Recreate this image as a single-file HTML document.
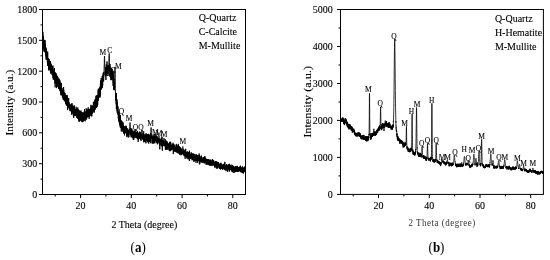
<!DOCTYPE html>
<html lang="en"><head><meta charset="utf-8"><title>XRD patterns</title>
<style>html,body{margin:0;padding:0;background:#fff;}body{width:550px;height:260px;overflow:hidden;}</style>
</head><body>
<svg width="550" height="260" viewBox="0 0 550 260" style="display:block">
<rect width="550" height="260" fill="#fff"/>
<g font-family="'Liberation Serif', 'Times New Roman', serif" fill="#000" stroke="#000" stroke-width="0.1">
<rect x="42.5" y="9.5" width="203.0" height="185.0" fill="none" stroke="#000" stroke-width="1"/>
<path d="M80.6,194.5v3.6M131.3,194.5v3.6M182.1,194.5v3.6M232.8,194.5v3.6M55.2,194.5v2M105.9,194.5v2M156.7,194.5v2M207.4,194.5v2M42.5,194.5h-3.5M42.5,163.7h-3.5M42.5,132.8h-3.5M42.5,102.0h-3.5M42.5,71.2h-3.5M42.5,40.3h-3.5M42.5,9.5h-3.5M42.5,179.1h-2M42.5,148.2h-2M42.5,117.4h-2M42.5,86.6h-2M42.5,55.8h-2M42.5,24.9h-2" stroke="#000" stroke-width="1" fill="none"/>
<g font-size="10" text-anchor="end">
<text transform="translate(37.2,197.9) scale(1,1.12)" >0</text>
<text transform="translate(37.2,167.1) scale(1,1.12)" >300</text>
<text transform="translate(37.2,136.2) scale(1,1.12)" >600</text>
<text transform="translate(37.2,105.4) scale(1,1.12)" >900</text>
<text transform="translate(37.2,74.6) scale(1,1.12)" >1200</text>
<text transform="translate(37.2,43.7) scale(1,1.12)" >1500</text>
<text transform="translate(37.2,12.9) scale(1,1.12)" >1800</text>
</g>
<g font-size="10" text-anchor="middle">
<text transform="translate(80.6,209.1) scale(1,1.12)" >20</text>
<text transform="translate(131.3,209.1) scale(1,1.12)" >40</text>
<text transform="translate(182.1,209.1) scale(1,1.12)" >60</text>
<text transform="translate(232.8,209.1) scale(1,1.12)" >80</text>
<text transform="translate(144.3,227.6) scale(1,1.12)" >2 Theta (degree)</text>
<text transform="translate(13.2,102.6) scale(1,1.12) rotate(-90)">Intensity (a.u.)</text>
</g>
<g font-size="10"><text transform="translate(198.7,21.2) scale(1,1.12)" >Q-Quartz</text><text transform="translate(198.7,35.2) scale(1,1.12)" >C-Calcite</text><text transform="translate(198.7,49.2) scale(1,1.12)" >M-Mullite</text></g>
<polyline points="42.5,35.0 42.6,34.1 42.6,36.6 42.7,39.2 42.7,37.8 42.8,40.1 42.8,36.4 42.9,31.8 42.9,39.0 43.0,39.8 43.0,35.8 43.1,36.6 43.1,37.8 43.2,42.0 43.2,38.8 43.3,36.4 43.3,44.4 43.4,41.2 43.4,47.0 43.5,44.9 43.5,47.3 43.6,41.4 43.6,45.6 43.7,40.0 43.7,40.7 43.8,42.3 43.8,51.3 43.9,44.1 43.9,42.5 44.0,42.1 44.0,48.6 44.1,44.8 44.1,47.0 44.2,46.6 44.2,39.8 44.3,47.1 44.3,44.4 44.4,41.2 44.4,47.0 44.5,45.4 44.5,44.9 44.6,45.3 44.6,50.3 44.7,45.7 44.7,41.2 44.8,52.2 44.8,43.5 44.9,46.5 44.9,49.6 45.0,40.0 45.0,44.8 45.1,52.3 45.1,47.9 45.2,46.2 45.2,49.3 45.3,46.3 45.3,49.3 45.4,46.8 45.4,44.3 45.5,52.2 45.5,49.2 45.6,51.9 45.6,50.0 45.7,55.0 45.7,53.0 45.8,51.8 45.9,48.1 45.9,47.4 46.0,56.6 46.0,54.9 46.1,49.9 46.1,59.7 46.2,54.4 46.2,53.3 46.3,48.6 46.3,50.9 46.4,54.8 46.4,55.1 46.5,54.9 46.5,48.8 46.6,56.0 46.6,55.8 46.7,53.7 46.7,55.6 46.8,56.1 46.8,59.6 46.9,55.9 46.9,57.6 47.0,52.1 47.0,54.2 47.1,56.8 47.1,54.5 47.2,58.4 47.2,53.6 47.3,57.6 47.3,55.7 47.4,62.6 47.4,57.0 47.5,64.4 47.5,65.8 47.6,59.9 47.6,62.2 47.7,58.6 47.7,51.5 47.8,62.6 47.8,62.0 47.9,59.3 47.9,58.4 48.0,61.0 48.0,61.3 48.1,58.2 48.1,59.0 48.2,64.7 48.2,61.5 48.3,61.2 48.3,65.2 48.4,60.8 48.4,64.8 48.5,58.6 48.5,61.4 48.6,62.0 48.6,64.5 48.7,63.0 48.7,69.7 48.8,66.8 48.8,61.7 48.9,70.5 48.9,60.3 49.0,69.5 49.0,60.9 49.1,66.6 49.1,61.1 49.2,63.4 49.3,69.4 49.3,59.8 49.4,59.3 49.4,64.6 49.5,65.5 49.5,65.2 49.6,68.1 49.6,61.1 49.7,66.9 49.7,65.3 49.8,68.0 49.8,67.5 49.9,69.9 49.9,61.2 50.0,66.2 50.0,62.5 50.1,65.9 50.1,68.4 50.2,67.3 50.2,68.2 50.3,66.4 50.3,67.8 50.4,67.6 50.4,71.5 50.5,69.6 50.5,61.3 50.6,69.4 50.6,70.8 50.7,66.1 50.7,62.6 50.8,72.5 50.8,68.3 50.9,69.9 50.9,73.9 51.0,65.4 51.0,68.1 51.1,67.9 51.1,70.9 51.2,66.8 51.2,70.3 51.3,69.1 51.3,72.5 51.4,73.0 51.4,64.4 51.5,70.8 51.5,68.2 51.6,69.4 51.6,70.9 51.7,71.2 51.7,67.4 51.8,70.7 51.8,70.3 51.9,69.8 51.9,66.0 52.0,67.8 52.0,68.9 52.1,72.2 52.1,75.1 52.2,67.3 52.2,67.3 52.3,71.2 52.3,69.0 52.4,68.3 52.4,68.2 52.5,68.0 52.6,72.7 52.6,66.2 52.7,75.6 52.7,68.6 52.8,69.9 52.8,68.8 52.9,65.5 52.9,66.9 53.0,75.9 53.0,77.8 53.1,69.5 53.1,75.7 53.2,72.4 53.2,69.7 53.3,78.1 53.3,79.8 53.4,71.9 53.4,72.8 53.5,73.8 53.5,73.0 53.6,76.1 53.6,78.4 53.7,74.0 53.7,76.8 53.8,79.1 53.8,72.0 53.9,74.0 53.9,72.6 54.0,77.3 54.0,76.3 54.1,77.6 54.1,77.3 54.2,73.8 54.2,77.2 54.3,73.5 54.3,73.7 54.4,68.1 54.4,79.6 54.5,72.2 54.5,75.5 54.6,75.4 54.6,80.2 54.7,77.1 54.7,73.2 54.8,76.0 54.8,75.6 54.9,76.9 54.9,72.3 55.0,76.3 55.0,83.6 55.1,78.7 55.1,83.0 55.2,87.4 55.2,78.5 55.3,72.4 55.3,76.8 55.4,80.9 55.4,80.3 55.5,73.6 55.5,76.9 55.6,77.3 55.6,77.8 55.7,77.6 55.7,75.2 55.8,76.1 55.9,77.3 55.9,81.6 56.0,76.6 56.0,80.6 56.1,74.9 56.1,82.8 56.2,79.2 56.2,78.8 56.3,83.3 56.3,73.4 56.4,74.4 56.4,80.8 56.5,76.8 56.5,78.2 56.6,88.1 56.6,78.9 56.7,80.0 56.7,79.6 56.8,83.5 56.8,81.0 56.9,80.8 56.9,76.5 57.0,79.3 57.0,80.6 57.1,75.7 57.1,82.6 57.2,82.1 57.2,86.9 57.3,76.0 57.3,78.0 57.4,78.3 57.4,79.2 57.5,81.1 57.5,80.9 57.6,82.5 57.6,82.5 57.7,81.7 57.7,77.1 57.8,80.3 57.8,82.4 57.9,84.2 57.9,84.5 58.0,77.4 58.0,81.0 58.1,82.5 58.1,84.0 58.2,86.5 58.2,83.3 58.3,80.4 58.3,84.5 58.4,84.1 58.4,84.2 58.5,83.2 58.5,88.8 58.6,84.6 58.6,86.6 58.7,81.2 58.7,86.6 58.8,82.4 58.8,79.5 58.9,85.4 58.9,86.5 59.0,84.0 59.0,84.8 59.1,88.0 59.2,83.5 59.2,78.7 59.3,86.0 59.3,85.9 59.4,88.7 59.4,84.5 59.5,89.6 59.5,89.2 59.6,81.8 59.6,88.8 59.7,82.6 59.7,81.3 59.8,85.5 59.8,84.6 59.9,80.3 59.9,87.2 60.0,88.6 60.0,91.1 60.1,86.8 60.1,82.4 60.2,84.2 60.2,90.3 60.3,90.1 60.3,89.1 60.4,86.7 60.4,88.4 60.5,87.2 60.5,87.1 60.6,89.1 60.6,88.4 60.7,87.7 60.7,88.7 60.8,87.0 60.8,82.8 60.9,87.0 60.9,88.8 61.0,94.3 61.0,87.9 61.1,95.4 61.1,93.8 61.2,86.8 61.2,87.4 61.3,90.2 61.3,95.2 61.4,91.1 61.4,92.2 61.5,88.2 61.5,83.3 61.6,89.8 61.6,93.0 61.7,94.3 61.7,91.0 61.8,91.4 61.8,94.6 61.9,90.8 61.9,94.8 62.0,87.9 62.0,88.2 62.1,88.2 62.1,93.2 62.2,90.2 62.2,92.3 62.3,93.2 62.3,93.2 62.4,96.2 62.4,96.8 62.5,90.0 62.6,93.2 62.6,92.0 62.7,89.7 62.7,98.2 62.8,95.4 62.8,92.6 62.9,92.0 62.9,94.5 63.0,90.3 63.0,92.9 63.1,97.3 63.1,96.6 63.2,91.4 63.2,92.5 63.3,99.8 63.3,90.0 63.4,92.4 63.4,90.2 63.5,95.6 63.5,95.4 63.6,98.1 63.6,87.0 63.7,95.4 63.7,90.1 63.8,97.0 63.8,94.6 63.9,100.3 63.9,96.5 64.0,92.4 64.0,99.3 64.1,92.4 64.1,94.7 64.2,99.0 64.2,97.4 64.3,97.4 64.3,96.3 64.4,97.8 64.4,98.8 64.5,97.3 64.5,99.6 64.6,100.5 64.6,96.8 64.7,94.1 64.7,101.5 64.8,97.0 64.8,99.0 64.9,100.1 64.9,94.7 65.0,98.9 65.0,93.0 65.1,99.9 65.1,96.5 65.2,98.4 65.2,100.1 65.3,96.2 65.3,98.5 65.4,96.3 65.4,98.3 65.5,101.5 65.5,98.7 65.6,98.3 65.6,95.7 65.7,101.3 65.7,98.8 65.8,103.9 65.9,97.0 65.9,102.2 66.0,104.5 66.0,99.3 66.1,96.0 66.1,103.9 66.2,102.7 66.2,101.7 66.3,102.9 66.3,98.6 66.4,102.2 66.4,102.0 66.5,98.2 66.5,102.3 66.6,98.8 66.6,103.1 66.7,103.8 66.7,105.8 66.8,94.9 66.8,101.5 66.9,99.9 66.9,100.8 67.0,100.3 67.0,100.7 67.1,95.3 67.1,104.1 67.2,105.7 67.2,104.1 67.3,105.2 67.3,99.1 67.4,99.0 67.4,104.3 67.5,105.7 67.5,102.7 67.6,97.7 67.6,110.1 67.7,100.3 67.7,105.1 67.8,99.0 67.8,105.3 67.9,103.0 67.9,106.7 68.0,105.2 68.0,98.4 68.1,100.1 68.1,103.8 68.2,105.2 68.2,108.3 68.3,104.0 68.3,103.0 68.4,103.2 68.4,103.3 68.5,106.4 68.5,103.4 68.6,103.4 68.6,99.6 68.7,98.0 68.7,103.9 68.8,105.8 68.8,103.9 68.9,105.5 68.9,106.0 69.0,104.1 69.0,107.0 69.1,102.3 69.2,104.4 69.2,103.5 69.3,104.8 69.3,106.5 69.4,107.2 69.4,105.2 69.5,106.2 69.5,104.0 69.6,104.7 69.6,108.7 69.7,104.7 69.7,108.8 69.8,106.8 69.8,105.9 69.9,111.1 69.9,105.0 70.0,104.9 70.0,105.8 70.1,106.7 70.1,106.6 70.2,108.4 70.2,106.5 70.3,107.3 70.3,105.6 70.4,109.3 70.4,105.3 70.5,105.6 70.5,106.5 70.6,107.4 70.6,104.7 70.7,111.1 70.7,105.1 70.8,105.8 70.8,105.7 70.9,105.5 70.9,108.5 71.0,107.5 71.0,105.0 71.1,105.6 71.1,106.3 71.2,111.3 71.2,105.5 71.3,103.8 71.3,104.3 71.4,106.6 71.4,111.8 71.5,104.7 71.5,107.9 71.6,114.7 71.6,106.5 71.7,111.9 71.7,111.4 71.8,109.6 71.8,104.3 71.9,109.0 71.9,107.2 72.0,103.1 72.0,103.6 72.1,108.5 72.1,108.9 72.2,111.9 72.2,110.4 72.3,107.3 72.3,107.4 72.4,108.3 72.4,105.8 72.5,110.9 72.6,108.9 72.6,106.8 72.7,107.3 72.7,105.9 72.8,107.9 72.8,110.0 72.9,108.1 72.9,112.0 73.0,113.9 73.0,107.7 73.1,109.5 73.1,108.6 73.2,114.3 73.2,110.6 73.3,111.3 73.3,112.1 73.4,116.1 73.4,110.8 73.5,107.4 73.5,108.9 73.6,111.7 73.6,110.1 73.7,108.0 73.7,117.9 73.8,110.6 73.8,108.8 73.9,108.5 73.9,105.7 74.0,107.3 74.0,109.7 74.1,109.8 74.1,108.5 74.2,112.2 74.2,110.9 74.3,108.3 74.3,105.5 74.4,111.4 74.4,111.2 74.5,110.5 74.5,107.4 74.6,111.3 74.6,107.2 74.7,114.0 74.7,111.9 74.8,112.0 74.8,109.3 74.9,108.7 74.9,115.8 75.0,114.2 75.0,110.8 75.1,113.6 75.1,116.1 75.2,109.0 75.2,110.6 75.3,110.7 75.3,113.4 75.4,109.3 75.4,112.9 75.5,109.2 75.5,114.8 75.6,114.7 75.6,111.9 75.7,114.4 75.7,110.7 75.8,111.9 75.9,115.2 75.9,112.5 76.0,113.7 76.0,110.3 76.1,114.6 76.1,114.1 76.2,109.6 76.2,106.8 76.3,107.6 76.3,112.9 76.4,112.6 76.4,109.0 76.5,113.6 76.5,116.0 76.6,113.0 76.6,112.2 76.7,115.7 76.7,118.0 76.8,117.5 76.8,111.8 76.9,115.7 76.9,114.1 77.0,113.2 77.0,112.1 77.1,114.7 77.1,112.5 77.2,116.4 77.2,115.0 77.3,116.8 77.3,111.0 77.4,114.2 77.4,116.2 77.5,115.1 77.5,114.8 77.6,112.4 77.6,118.7 77.7,117.2 77.7,115.4 77.8,107.5 77.8,111.9 77.9,114.8 77.9,112.6 78.0,109.0 78.0,115.3 78.1,115.7 78.1,111.4 78.2,113.4 78.2,113.0 78.3,116.2 78.3,109.6 78.4,110.3 78.4,113.4 78.5,113.1 78.5,120.5 78.6,113.3 78.6,115.6 78.7,114.0 78.7,113.3 78.8,116.1 78.8,119.8 78.9,114.3 78.9,117.3 79.0,116.3 79.0,117.1 79.1,116.4 79.2,121.8 79.2,112.2 79.3,114.9 79.3,112.6 79.4,110.3 79.4,115.6 79.5,120.6 79.5,118.2 79.6,119.1 79.6,117.2 79.7,115.7 79.7,121.3 79.8,115.0 79.8,120.1 79.9,115.2 79.9,116.4 80.0,116.9 80.0,116.3 80.1,117.6 80.1,117.8 80.2,120.8 80.2,116.3 80.3,111.3 80.3,111.0 80.4,112.8 80.4,114.5 80.5,118.2 80.5,112.5 80.6,116.6 80.6,116.6 80.7,117.3 80.7,116.3 80.8,117.7 80.8,116.8 80.9,119.5 80.9,117.6 81.0,110.5 81.0,116.8 81.1,117.3 81.1,115.2 81.2,114.7 81.2,119.7 81.3,117.2 81.3,114.2 81.4,116.0 81.4,116.4 81.5,112.5 81.5,118.5 81.6,116.5 81.6,118.1 81.7,112.7 81.7,121.9 81.8,118.5 81.8,118.1 81.9,114.9 81.9,115.1 82.0,112.9 82.0,120.9 82.1,114.7 82.1,117.5 82.2,118.4 82.2,115.2 82.3,119.1 82.3,122.2 82.4,117.6 82.5,120.6 82.5,118.3 82.6,115.6 82.6,115.7 82.7,112.3 82.7,117.1 82.8,120.7 82.8,118.6 82.9,119.0 82.9,119.8 83.0,115.3 83.0,118.2 83.1,121.8 83.1,114.6 83.2,116.7 83.2,115.5 83.3,116.1 83.3,114.7 83.4,116.3 83.4,113.0 83.5,115.2 83.5,115.3 83.6,115.2 83.6,120.2 83.7,116.7 83.7,116.9 83.8,115.7 83.8,119.9 83.9,111.8 83.9,115.9 84.0,119.4 84.0,120.7 84.1,116.9 84.1,116.3 84.2,118.0 84.2,115.8 84.3,117.7 84.3,114.5 84.4,117.9 84.4,116.0 84.5,113.3 84.5,109.0 84.6,118.6 84.6,117.1 84.7,118.1 84.7,113.7 84.8,118.9 84.8,117.1 84.9,115.8 84.9,118.4 85.0,118.3 85.0,116.9 85.1,121.3 85.1,119.5 85.2,116.7 85.2,115.2 85.3,116.0 85.3,120.3 85.4,116.7 85.4,113.3 85.5,113.9 85.5,115.6 85.6,117.8 85.6,113.7 85.7,116.9 85.7,118.5 85.8,117.5 85.9,111.3 85.9,114.6 86.0,112.1 86.0,116.5 86.1,112.6 86.1,116.8 86.2,115.5 86.2,108.3 86.3,113.0 86.3,116.4 86.4,115.2 86.4,114.1 86.5,111.7 86.5,116.3 86.6,119.6 86.6,115.6 86.7,114.8 86.7,114.5 86.8,111.2 86.8,113.9 86.9,112.5 86.9,117.7 87.0,112.3 87.0,108.9 87.1,112.5 87.1,113.9 87.2,114.1 87.2,109.6 87.3,117.0 87.3,114.7 87.4,113.2 87.4,112.3 87.5,115.5 87.5,113.5 87.6,115.0 87.6,113.9 87.7,114.6 87.7,117.3 87.8,114.2 87.8,111.7 87.9,116.7 87.9,114.7 88.0,112.2 88.0,116.9 88.1,113.4 88.1,116.8 88.2,110.7 88.2,107.4 88.3,108.2 88.3,114.3 88.4,111.6 88.4,113.3 88.5,113.3 88.5,109.3 88.6,117.1 88.6,110.6 88.7,113.5 88.7,109.5 88.8,112.8 88.8,115.1 88.9,112.5 88.9,111.2 89.0,113.0 89.0,111.8 89.1,114.5 89.2,118.9 89.2,110.5 89.3,111.0 89.3,112.5 89.4,112.6 89.4,109.9 89.5,114.0 89.5,114.6 89.6,113.2 89.6,109.3 89.7,116.4 89.7,109.2 89.8,114.2 89.8,115.4 89.9,108.9 89.9,112.6 90.0,115.8 90.0,113.2 90.1,109.6 90.1,108.8 90.2,113.2 90.2,110.9 90.3,110.0 90.3,113.7 90.4,110.9 90.4,111.9 90.5,113.2 90.5,113.0 90.6,111.4 90.6,111.5 90.7,113.1 90.7,112.7 90.8,108.3 90.8,110.8 90.9,108.8 90.9,107.9 91.0,109.5 91.0,104.8 91.1,113.4 91.1,108.8 91.2,111.8 91.2,105.7 91.3,106.1 91.3,116.2 91.4,113.4 91.4,108.8 91.5,108.3 91.5,108.4 91.6,110.6 91.6,109.1 91.7,108.4 91.7,110.4 91.8,107.3 91.8,116.4 91.9,108.2 91.9,112.8 92.0,107.1 92.0,110.4 92.1,112.2 92.1,108.6 92.2,112.1 92.2,112.0 92.3,113.8 92.3,109.4 92.4,107.8 92.5,106.2 92.5,109.4 92.6,106.0 92.6,108.8 92.7,109.1 92.7,107.1 92.8,105.6 92.8,109.5 92.9,109.2 92.9,108.8 93.0,108.1 93.0,110.8 93.1,105.2 93.1,109.2 93.2,106.6 93.2,110.2 93.3,106.8 93.3,106.6 93.4,108.8 93.4,101.8 93.5,106.4 93.5,102.3 93.6,104.5 93.6,109.0 93.7,108.2 93.7,105.7 93.8,106.7 93.8,106.7 93.9,107.5 93.9,111.8 94.0,107.2 94.0,112.8 94.1,105.3 94.1,108.3 94.2,108.2 94.2,106.7 94.3,105.2 94.3,110.0 94.4,110.8 94.4,108.8 94.5,111.5 94.5,108.3 94.6,100.9 94.6,108.4 94.7,103.4 94.7,109.1 94.8,104.2 94.8,105.9 94.9,105.0 94.9,103.1 95.0,99.6 95.0,104.0 95.1,104.1 95.1,107.2 95.2,102.6 95.2,104.9 95.3,101.7 95.3,104.1 95.4,98.8 95.4,109.5 95.5,104.5 95.5,101.0 95.6,104.5 95.6,105.6 95.7,104.0 95.8,107.1 95.8,102.7 95.9,95.8 95.9,99.5 96.0,105.9 96.0,105.1 96.1,103.7 96.1,99.4 96.2,104.7 96.2,104.2 96.3,99.4 96.3,99.4 96.4,102.9 96.4,104.9 96.5,106.1 96.5,103.5 96.6,107.9 96.6,99.0 96.7,102.9 96.7,99.5 96.8,95.3 96.8,97.2 96.9,104.0 96.9,97.9 97.0,96.9 97.0,102.4 97.1,102.9 97.1,100.3 97.2,104.5 97.2,95.3 97.3,106.7 97.3,102.7 97.4,100.1 97.4,99.8 97.5,98.5 97.5,98.0 97.6,99.3 97.6,95.1 97.7,104.8 97.7,98.2 97.8,100.2 97.8,97.5 97.9,97.1 97.9,100.4 98.0,99.4 98.0,94.9 98.1,96.1 98.1,99.0 98.2,90.7 98.2,89.7 98.3,100.9 98.3,95.4 98.4,88.6 98.4,93.6 98.5,95.2 98.5,96.3 98.6,97.1 98.6,96.0 98.7,96.8 98.7,92.7 98.8,96.0 98.8,96.0 98.9,98.1 98.9,94.4 99.0,96.8 99.0,94.5 99.1,90.5 99.2,92.4 99.2,91.8 99.3,92.1 99.3,92.8 99.4,93.2 99.4,93.6 99.5,90.1 99.5,95.6 99.6,88.0 99.6,91.8 99.7,94.0 99.7,93.0 99.8,93.4 99.8,90.7 99.9,93.2 99.9,87.2 100.0,93.0 100.0,97.5 100.1,92.5 100.1,96.3 100.2,90.0 100.2,86.3 100.3,87.4 100.3,93.4 100.4,91.4 100.4,83.3 100.5,87.6 100.5,88.4 100.6,84.9 100.6,80.3 100.7,83.7 100.7,87.1 100.8,86.2 100.8,85.2 100.9,88.8 100.9,90.0 101.0,86.3 101.0,89.2 101.1,86.2 101.1,85.5 101.2,78.1 101.2,88.0 101.3,85.5 101.3,85.4 101.4,83.2 101.4,81.1 101.5,85.7 101.5,86.6 101.6,89.0 101.6,86.5 101.7,81.6 101.7,82.9 101.8,86.1 101.8,83.8 101.9,82.3 101.9,80.6 102.0,83.9 102.0,82.6 102.1,87.4 102.1,85.1 102.2,75.9 102.2,88.0 102.3,81.8 102.3,79.8 102.4,81.5 102.5,82.7 102.5,80.1 102.6,79.7 102.6,79.8 102.7,85.5 102.7,79.7 102.8,81.8 102.8,80.6 102.9,77.9 102.9,76.4 103.0,75.4 103.0,79.8 103.1,74.9 103.1,73.9 103.2,73.8 103.2,72.8 103.3,77.7 103.3,77.6 103.4,74.1 103.4,81.1 103.5,75.8 103.5,78.0 103.6,77.2 103.6,81.3 103.7,78.3 103.7,75.4 103.8,72.5 103.8,72.0 103.9,74.5 103.9,74.1 104.0,74.7 104.0,71.1 104.1,71.0 104.1,68.2 104.2,65.2 104.2,65.1 104.3,63.6 104.3,60.8 104.4,58.7 104.4,57.0 104.5,56.1 104.5,56.1 104.6,57.0 104.6,58.2 104.7,59.7 104.7,62.5 104.8,65.0 104.8,66.6 104.9,67.4 104.9,68.0 105.0,67.7 105.0,68.0 105.1,68.3 105.1,68.0 105.2,69.9 105.2,76.5 105.3,72.4 105.3,71.0 105.4,73.2 105.4,69.0 105.5,73.2 105.5,75.0 105.6,67.1 105.6,69.7 105.7,71.1 105.8,68.7 105.8,68.2 105.9,70.6 105.9,80.0 106.0,73.9 106.0,73.2 106.1,74.9 106.1,70.9 106.2,67.5 106.2,73.1 106.3,75.2 106.3,64.5 106.4,72.9 106.4,75.5 106.5,70.5 106.5,69.8 106.6,73.6 106.6,68.5 106.7,72.8 106.7,74.2 106.8,70.5 106.8,68.4 106.9,73.2 106.9,69.9 107.0,71.3 107.0,61.4 107.1,73.3 107.1,66.2 107.2,71.1 107.2,71.3 107.3,68.4 107.3,67.8 107.4,66.5 107.4,69.7 107.5,72.8 107.5,72.6 107.6,69.1 107.6,68.8 107.7,66.1 107.7,69.4 107.8,67.2 107.8,65.7 107.9,70.2 107.9,75.8 108.0,74.8 108.0,75.6 108.1,65.5 108.1,73.6 108.2,66.7 108.2,68.9 108.3,65.2 108.3,67.5 108.4,71.0 108.4,71.2 108.5,70.2 108.5,69.8 108.6,71.3 108.6,69.6 108.7,65.4 108.7,71.0 108.8,66.2 108.8,66.2 108.9,63.0 108.9,60.4 109.0,58.9 109.0,56.6 109.1,55.2 109.2,53.9 109.2,53.5 109.3,54.1 109.3,55.4 109.4,58.0 109.4,59.9 109.5,61.6 109.5,62.4 109.6,65.6 109.6,67.2 109.7,71.6 109.7,66.9 109.8,66.5 109.8,71.2 109.9,72.3 109.9,76.6 110.0,69.5 110.0,64.0 110.1,70.2 110.1,68.5 110.2,70.9 110.2,76.0 110.3,68.5 110.3,77.1 110.4,73.8 110.4,72.2 110.5,70.3 110.5,71.9 110.6,72.1 110.6,76.0 110.7,77.9 110.7,73.4 110.8,76.1 110.8,78.2 110.9,78.1 110.9,75.6 111.0,80.2 111.0,78.6 111.1,79.6 111.1,73.7 111.2,73.0 111.2,67.8 111.3,79.5 111.3,76.8 111.4,71.7 111.4,75.4 111.5,75.9 111.5,69.5 111.6,76.0 111.6,78.4 111.7,78.8 111.7,74.1 111.8,74.2 111.8,78.1 111.9,76.7 111.9,73.4 112.0,73.0 112.0,74.1 112.1,71.9 112.1,71.3 112.2,71.7 112.2,70.1 112.3,69.3 112.3,68.9 112.4,68.9 112.5,69.2 112.5,69.8 112.6,70.4 112.6,73.0 112.7,71.2 112.7,75.3 112.8,73.9 112.8,74.1 112.9,75.0 112.9,77.0 113.0,80.5 113.0,76.6 113.1,80.4 113.1,85.9 113.2,70.9 113.2,77.3 113.3,74.2 113.3,82.9 113.4,75.8 113.4,75.7 113.5,76.1 113.5,81.5 113.6,85.7 113.6,82.8 113.7,89.7 113.7,88.4 113.8,83.1 113.8,86.9 113.9,84.7 113.9,84.9 114.0,78.9 114.0,81.3 114.1,85.9 114.1,82.5 114.2,88.7 114.2,87.6 114.3,84.4 114.3,90.2 114.4,87.6 114.4,89.6 114.5,85.9 114.5,82.3 114.6,85.0 114.6,81.7 114.7,80.6 114.7,77.9 114.8,74.9 114.8,71.0 114.9,68.8 114.9,67.5 115.0,66.9 115.0,67.6 115.1,69.4 115.1,71.9 115.2,75.2 115.2,78.5 115.3,81.5 115.3,85.8 115.4,88.3 115.4,92.8 115.5,92.5 115.5,96.0 115.6,94.5 115.6,97.3 115.7,95.3 115.8,94.9 115.8,100.5 115.9,99.3 115.9,100.1 116.0,95.6 116.0,93.2 116.1,96.0 116.1,99.9 116.2,95.0 116.2,104.1 116.3,95.6 116.3,102.3 116.4,109.0 116.4,93.4 116.5,96.9 116.5,105.0 116.6,101.9 116.6,103.4 116.7,102.9 116.7,107.9 116.8,105.9 116.8,103.0 116.9,104.1 116.9,101.7 117.0,105.4 117.0,99.3 117.1,108.4 117.1,106.1 117.2,112.6 117.2,111.1 117.3,104.2 117.3,111.0 117.4,107.2 117.4,109.2 117.5,112.4 117.5,110.8 117.6,111.6 117.6,111.9 117.7,108.9 117.7,109.5 117.8,113.3 117.8,114.6 117.9,111.7 117.9,113.2 118.0,110.4 118.0,106.4 118.1,111.7 118.1,114.4 118.2,115.2 118.2,117.4 118.3,117.8 118.3,118.4 118.4,117.1 118.4,117.5 118.5,114.6 118.5,118.0 118.6,117.7 118.6,120.7 118.7,113.2 118.7,116.5 118.8,113.3 118.8,116.1 118.9,114.5 118.9,119.3 119.0,116.9 119.1,111.8 119.1,122.4 119.2,116.2 119.2,115.0 119.3,118.6 119.3,117.8 119.4,116.6 119.4,121.9 119.5,119.2 119.5,122.8 119.6,122.4 119.6,122.4 119.7,121.3 119.7,120.6 119.8,120.0 119.8,125.1 119.9,116.2 119.9,118.5 120.0,119.8 120.0,122.8 120.1,122.2 120.1,120.6 120.2,121.1 120.2,126.8 120.3,120.5 120.3,114.9 120.4,127.6 120.4,120.2 120.5,122.0 120.5,123.4 120.6,119.6 120.6,126.4 120.7,123.0 120.7,119.7 120.8,124.2 120.8,124.9 120.9,123.6 120.9,125.2 121.0,120.1 121.0,126.6 121.1,122.0 121.1,127.7 121.2,122.8 121.2,124.9 121.3,131.5 121.3,124.9 121.4,127.8 121.4,126.2 121.5,121.2 121.5,128.2 121.6,128.1 121.6,121.7 121.7,125.3 121.7,121.7 121.8,124.9 121.8,128.2 121.9,126.1 121.9,122.9 122.0,123.7 122.0,126.2 122.1,126.2 122.1,126.7 122.2,128.0 122.2,121.6 122.3,126.7 122.3,129.7 122.4,128.1 122.5,125.1 122.5,125.4 122.6,127.5 122.6,128.9 122.7,127.2 122.7,131.6 122.8,130.8 122.8,125.5 122.9,128.8 122.9,126.7 123.0,124.6 123.0,126.1 123.1,127.8 123.1,122.5 123.2,126.3 123.2,129.0 123.3,126.3 123.3,127.2 123.4,130.5 123.4,128.2 123.5,128.9 123.5,133.5 123.6,129.1 123.6,129.4 123.7,129.9 123.7,133.0 123.8,129.8 123.8,129.1 123.9,128.8 123.9,132.0 124.0,127.6 124.0,132.3 124.1,129.9 124.1,126.1 124.2,131.2 124.2,130.8 124.3,126.8 124.3,130.6 124.4,130.4 124.4,129.1 124.5,127.1 124.5,135.4 124.6,132.0 124.6,132.5 124.7,132.7 124.7,132.2 124.8,132.2 124.8,129.4 124.9,132.4 124.9,129.9 125.0,129.3 125.0,132.1 125.1,130.0 125.1,126.3 125.2,129.6 125.2,132.1 125.3,130.7 125.3,132.9 125.4,129.9 125.4,128.5 125.5,132.7 125.5,131.3 125.6,128.0 125.6,132.0 125.7,130.4 125.8,133.4 125.8,133.0 125.9,132.2 125.9,125.7 126.0,132.0 126.0,132.4 126.1,132.5 126.1,131.5 126.2,129.6 126.2,130.7 126.3,126.3 126.3,130.8 126.4,127.8 126.4,130.7 126.5,129.9 126.5,134.9 126.6,131.7 126.6,131.6 126.7,132.1 126.7,136.7 126.8,129.4 126.8,132.5 126.9,132.7 126.9,132.3 127.0,132.2 127.0,130.7 127.1,134.8 127.1,134.0 127.2,131.1 127.2,131.5 127.3,132.7 127.3,133.2 127.4,133.9 127.4,132.1 127.5,129.1 127.5,134.5 127.6,128.3 127.6,130.0 127.7,133.1 127.7,130.2 127.8,135.6 127.8,136.3 127.9,135.2 127.9,133.1 128.0,133.0 128.0,133.4 128.1,132.0 128.1,137.4 128.2,131.1 128.2,135.7 128.3,133.9 128.3,133.3 128.4,135.1 128.4,135.6 128.5,134.8 128.5,132.4 128.6,131.0 128.6,131.1 128.7,134.8 128.7,134.3 128.8,134.6 128.8,131.4 128.9,137.3 128.9,129.5 129.0,133.6 129.1,134.3 129.1,131.7 129.2,130.1 129.2,131.6 129.3,130.1 129.3,132.0 129.4,129.8 129.4,129.7 129.5,131.8 129.5,129.1 129.6,130.4 129.6,129.7 129.7,129.7 129.7,127.9 129.8,126.2 129.8,125.7 129.9,124.0 129.9,123.1 130.0,122.6 130.0,122.5 130.1,122.9 130.1,123.7 130.2,125.1 130.2,126.1 130.3,128.9 130.3,128.2 130.4,130.4 130.4,129.6 130.5,133.9 130.5,130.8 130.6,132.7 130.6,131.1 130.7,134.6 130.7,134.2 130.8,128.2 130.8,134.9 130.9,134.8 130.9,133.9 131.0,135.6 131.0,130.5 131.1,129.3 131.1,135.1 131.2,137.5 131.2,130.7 131.3,130.9 131.3,131.6 131.4,130.8 131.4,135.6 131.5,134.0 131.5,136.9 131.6,137.0 131.6,131.4 131.7,135.3 131.7,128.4 131.8,133.6 131.8,135.3 131.9,132.0 131.9,129.6 132.0,132.7 132.0,136.8 132.1,133.1 132.1,130.7 132.2,135.2 132.2,135.9 132.3,131.6 132.3,133.7 132.4,136.7 132.5,135.0 132.5,135.9 132.6,133.5 132.6,133.9 132.7,131.5 132.7,132.6 132.8,138.0 132.8,133.3 132.9,132.2 132.9,133.3 133.0,131.9 133.0,135.7 133.1,136.7 133.1,132.2 133.2,137.0 133.2,139.6 133.3,132.1 133.3,136.2 133.4,135.3 133.4,137.9 133.5,137.7 133.5,137.3 133.6,135.5 133.6,133.8 133.7,140.1 133.7,132.9 133.8,137.5 133.8,137.2 133.9,133.2 133.9,134.9 134.0,138.4 134.0,130.5 134.1,136.8 134.1,134.3 134.2,134.4 134.2,131.6 134.3,135.9 134.3,132.6 134.4,136.5 134.4,132.5 134.5,136.4 134.5,135.5 134.6,131.2 134.6,134.0 134.7,134.1 134.7,131.0 134.8,133.2 134.8,133.8 134.9,131.9 134.9,132.4 135.0,130.5 135.0,130.0 135.1,129.7 135.1,129.2 135.2,129.0 135.2,129.1 135.3,129.6 135.3,130.0 135.4,131.6 135.4,131.9 135.5,132.8 135.5,133.4 135.6,133.4 135.6,135.8 135.7,133.8 135.8,135.2 135.8,136.3 135.9,137.8 135.9,137.7 136.0,134.7 136.0,137.6 136.1,135.4 136.1,133.2 136.2,133.3 136.2,132.1 136.3,136.4 136.3,138.2 136.4,133.4 136.4,135.0 136.5,133.2 136.5,135.8 136.6,133.1 136.6,133.9 136.7,134.2 136.7,134.7 136.8,135.0 136.8,135.4 136.9,135.4 136.9,133.7 137.0,137.2 137.0,132.0 137.1,136.3 137.1,133.7 137.2,136.3 137.2,136.6 137.3,131.4 137.3,136.8 137.4,139.1 137.4,137.8 137.5,136.9 137.5,131.2 137.6,135.7 137.6,134.0 137.7,138.5 137.7,135.4 137.8,134.7 137.8,132.1 137.9,137.9 137.9,134.9 138.0,135.6 138.0,138.7 138.1,136.4 138.1,136.9 138.2,141.8 138.2,135.0 138.3,135.1 138.3,137.4 138.4,139.5 138.4,133.0 138.5,135.8 138.5,134.1 138.6,133.2 138.6,137.7 138.7,134.6 138.7,137.1 138.8,136.6 138.8,136.7 138.9,136.5 138.9,134.0 139.0,136.3 139.1,136.9 139.1,137.2 139.2,135.8 139.2,138.7 139.3,137.8 139.3,136.7 139.4,137.9 139.4,136.9 139.5,138.1 139.5,132.0 139.6,133.6 139.6,135.6 139.7,136.8 139.7,131.6 139.8,136.0 139.8,136.9 139.9,136.0 139.9,136.0 140.0,133.5 140.0,136.8 140.1,131.9 140.1,138.8 140.2,135.2 140.2,139.1 140.3,132.6 140.3,137.6 140.4,137.0 140.4,134.7 140.5,133.9 140.5,139.4 140.6,137.6 140.6,140.1 140.7,136.5 140.7,137.1 140.8,137.7 140.8,138.4 140.9,137.7 140.9,138.5 141.0,135.7 141.0,133.5 141.1,140.9 141.1,137.0 141.2,137.6 141.2,135.7 141.3,138.2 141.3,136.6 141.4,137.6 141.4,134.8 141.5,135.2 141.5,134.8 141.6,133.7 141.6,133.3 141.7,132.8 141.7,131.3 141.8,130.7 141.8,130.2 141.9,130.0 141.9,130.1 142.0,130.7 142.0,131.4 142.1,131.6 142.1,132.3 142.2,134.4 142.2,135.6 142.3,136.0 142.4,136.4 142.4,138.5 142.5,136.5 142.5,139.0 142.6,139.2 142.6,135.2 142.7,138.5 142.7,137.3 142.8,135.8 142.8,135.4 142.9,138.0 142.9,137.2 143.0,139.2 143.0,133.3 143.1,135.9 143.1,139.9 143.2,137.4 143.2,135.8 143.3,136.3 143.3,133.2 143.4,134.3 143.4,138.7 143.5,137.7 143.5,140.4 143.6,136.9 143.6,137.2 143.7,131.3 143.7,137.3 143.8,142.4 143.8,139.1 143.9,137.3 143.9,140.5 144.0,139.6 144.0,138.5 144.1,136.9 144.1,138.0 144.2,139.7 144.2,135.9 144.3,138.9 144.3,138.8 144.4,140.9 144.4,139.5 144.5,136.2 144.5,141.5 144.6,137.9 144.6,136.1 144.7,138.6 144.7,137.2 144.8,140.4 144.8,134.8 144.9,135.3 144.9,137.3 145.0,141.9 145.0,140.3 145.1,135.6 145.1,134.0 145.2,137.2 145.2,135.0 145.3,139.3 145.3,138.4 145.4,137.9 145.4,137.0 145.5,141.4 145.5,135.8 145.6,134.9 145.6,140.6 145.7,141.1 145.8,137.2 145.8,139.5 145.9,143.4 145.9,136.2 146.0,137.7 146.0,139.1 146.1,133.2 146.1,137.8 146.2,139.8 146.2,137.9 146.3,140.5 146.3,139.9 146.4,137.2 146.4,139.4 146.5,139.2 146.5,134.3 146.6,136.2 146.6,136.3 146.7,137.0 146.7,137.1 146.8,134.9 146.8,138.3 146.9,134.0 146.9,140.4 147.0,138.8 147.0,141.4 147.1,139.0 147.1,137.1 147.2,135.0 147.2,139.8 147.3,138.3 147.3,139.1 147.4,140.0 147.4,141.0 147.5,138.2 147.5,142.3 147.6,138.1 147.6,138.3 147.7,139.9 147.7,140.7 147.8,141.6 147.8,134.1 147.9,141.5 147.9,134.9 148.0,137.1 148.0,139.3 148.1,141.1 148.1,136.1 148.2,134.5 148.2,140.6 148.3,139.2 148.3,136.1 148.4,137.7 148.4,134.0 148.5,139.8 148.5,137.3 148.6,141.4 148.6,133.8 148.7,140.2 148.7,143.6 148.8,138.9 148.8,138.9 148.9,134.2 148.9,139.4 149.0,138.6 149.1,137.3 149.1,135.0 149.2,138.8 149.2,136.3 149.3,137.5 149.3,139.3 149.4,138.5 149.4,138.6 149.5,140.8 149.5,135.9 149.6,141.8 149.6,136.0 149.7,136.5 149.7,138.9 149.8,140.4 149.8,139.2 149.9,137.6 149.9,137.0 150.0,138.1 150.0,136.5 150.1,139.9 150.1,138.2 150.2,142.1 150.2,137.0 150.3,138.3 150.3,139.4 150.4,136.2 150.4,137.1 150.5,143.2 150.5,137.8 150.6,139.7 150.6,135.6 150.7,133.4 150.7,135.8 150.8,134.1 150.8,133.0 150.9,131.4 150.9,130.0 151.0,128.7 151.0,128.0 151.1,127.5 151.1,127.6 151.2,128.2 151.2,129.1 151.3,130.4 151.3,132.4 151.4,133.8 151.4,135.0 151.5,135.8 151.5,135.3 151.6,139.1 151.6,137.2 151.7,137.2 151.7,137.5 151.8,137.8 151.8,135.8 151.9,137.9 151.9,137.2 152.0,137.8 152.0,135.2 152.1,143.3 152.1,136.3 152.2,139.8 152.2,139.8 152.3,141.4 152.4,143.5 152.4,140.1 152.5,140.9 152.5,138.2 152.6,142.7 152.6,136.1 152.7,138.8 152.7,140.0 152.8,141.0 152.8,141.2 152.9,142.0 152.9,140.7 153.0,139.5 153.0,139.9 153.1,142.7 153.1,140.1 153.2,141.6 153.2,139.2 153.3,135.4 153.3,138.2 153.4,140.3 153.4,143.3 153.5,142.8 153.5,143.4 153.6,138.0 153.6,141.4 153.7,139.5 153.7,141.1 153.8,139.5 153.8,136.6 153.9,141.3 153.9,140.5 154.0,141.6 154.0,137.8 154.1,142.1 154.1,142.3 154.2,142.9 154.2,143.0 154.3,138.7 154.3,134.1 154.4,142.0 154.4,137.7 154.5,139.3 154.5,142.2 154.6,140.4 154.6,140.3 154.7,141.2 154.7,135.9 154.8,143.4 154.8,139.0 154.9,139.0 154.9,140.3 155.0,139.0 155.0,137.8 155.1,138.3 155.1,137.6 155.2,136.8 155.2,137.6 155.3,135.4 155.3,134.7 155.4,134.4 155.4,134.1 155.5,134.0 155.5,134.1 155.6,134.6 155.7,135.3 155.7,135.6 155.8,137.1 155.8,137.5 155.9,139.7 155.9,138.8 156.0,139.0 156.0,140.5 156.1,140.9 156.1,136.7 156.2,142.3 156.2,142.2 156.3,141.9 156.3,137.8 156.4,135.9 156.4,139.7 156.5,142.0 156.5,141.4 156.6,138.1 156.6,142.5 156.7,137.3 156.7,137.4 156.8,140.4 156.8,139.2 156.9,139.0 156.9,137.2 157.0,143.0 157.0,138.1 157.1,141.6 157.1,142.4 157.2,140.5 157.2,141.3 157.3,143.0 157.3,144.4 157.4,142.9 157.4,137.6 157.5,136.5 157.5,139.4 157.6,138.3 157.6,142.1 157.7,141.1 157.7,140.3 157.8,143.4 157.8,143.2 157.9,140.8 157.9,141.7 158.0,143.4 158.0,140.2 158.1,141.6 158.1,138.9 158.2,141.1 158.2,141.6 158.3,140.8 158.3,141.3 158.4,142.0 158.4,141.3 158.5,139.5 158.5,139.4 158.6,138.5 158.6,140.7 158.7,138.9 158.7,138.2 158.8,137.2 158.8,136.6 158.9,136.0 158.9,135.6 159.0,135.5 159.1,135.7 159.1,136.0 159.2,136.5 159.2,137.6 159.3,137.8 159.3,139.5 159.4,138.7 159.4,140.4 159.5,141.6 159.5,141.5 159.6,142.4 159.6,141.1 159.7,141.3 159.7,141.6 159.8,142.9 159.8,149.3 159.9,141.7 159.9,145.9 160.0,141.4 160.0,139.5 160.1,141.4 160.1,142.9 160.2,142.5 160.2,142.4 160.3,143.4 160.3,143.5 160.4,144.2 160.4,139.6 160.5,142.3 160.5,140.2 160.6,142.9 160.6,142.2 160.7,142.8 160.7,141.4 160.8,140.6 160.8,141.9 160.9,144.0 160.9,144.2 161.0,138.9 161.0,143.2 161.1,143.2 161.1,139.4 161.2,140.3 161.2,141.5 161.3,143.6 161.3,137.6 161.4,141.9 161.4,141.6 161.5,143.2 161.5,145.9 161.6,145.7 161.6,142.0 161.7,142.0 161.7,143.4 161.8,145.5 161.8,146.1 161.9,143.7 161.9,146.2 162.0,141.0 162.0,140.5 162.1,136.9 162.1,141.2 162.2,144.4 162.2,145.0 162.3,150.7 162.4,144.5 162.4,143.6 162.5,141.1 162.5,141.9 162.6,142.0 162.6,142.8 162.7,141.8 162.7,140.1 162.8,145.6 162.8,144.3 162.9,146.3 162.9,139.9 163.0,140.6 163.0,141.8 163.1,145.9 163.1,143.0 163.2,143.9 163.2,143.2 163.3,143.7 163.3,142.4 163.4,143.9 163.4,141.8 163.5,142.6 163.5,143.1 163.6,142.5 163.6,142.3 163.7,140.8 163.7,140.9 163.8,139.9 163.8,139.5 163.9,138.9 163.9,138.2 164.0,138.0 164.0,138.0 164.1,138.3 164.1,139.1 164.2,139.8 164.2,140.5 164.3,141.5 164.3,142.6 164.4,141.6 164.4,143.0 164.5,142.7 164.5,144.1 164.6,143.2 164.6,145.1 164.7,144.0 164.7,142.9 164.8,144.0 164.8,145.1 164.9,146.4 164.9,143.9 165.0,143.6 165.0,144.9 165.1,146.0 165.1,143.2 165.2,139.1 165.2,145.1 165.3,143.7 165.3,143.7 165.4,150.0 165.4,144.3 165.5,146.1 165.5,141.6 165.6,145.2 165.7,146.3 165.7,145.2 165.8,144.3 165.8,145.9 165.9,144.9 165.9,147.7 166.0,145.3 166.0,143.2 166.1,140.6 166.1,143.4 166.2,144.3 166.2,142.4 166.3,142.8 166.3,141.4 166.4,142.7 166.4,145.3 166.5,144.5 166.5,144.7 166.6,144.4 166.6,144.7 166.7,146.8 166.7,149.7 166.8,146.6 166.8,149.5 166.9,145.1 166.9,145.2 167.0,148.9 167.0,143.8 167.1,143.5 167.1,145.1 167.2,141.8 167.2,141.4 167.3,148.0 167.3,143.2 167.4,144.5 167.4,144.6 167.5,143.5 167.5,147.1 167.6,146.8 167.6,147.3 167.7,147.2 167.7,145.8 167.8,148.7 167.8,147.9 167.9,144.5 167.9,145.9 168.0,144.9 168.0,149.8 168.1,147.4 168.1,147.0 168.2,145.7 168.2,147.1 168.3,143.9 168.3,146.0 168.4,145.9 168.4,145.9 168.5,144.4 168.5,147.0 168.6,143.6 168.6,145.0 168.7,145.7 168.7,146.0 168.8,145.0 168.8,143.9 168.9,144.1 168.9,145.3 169.0,144.3 169.1,145.9 169.1,143.5 169.2,146.3 169.2,150.6 169.3,143.4 169.3,146.0 169.4,148.8 169.4,146.7 169.5,148.2 169.5,141.9 169.6,145.3 169.6,149.7 169.7,145.3 169.7,147.3 169.8,142.4 169.8,148.7 169.9,151.2 169.9,146.4 170.0,147.3 170.0,147.4 170.1,151.1 170.1,145.7 170.2,143.1 170.2,150.7 170.3,144.2 170.3,147.9 170.4,141.7 170.4,145.8 170.5,147.1 170.5,144.4 170.6,145.7 170.6,148.0 170.7,145.3 170.7,147.9 170.8,150.6 170.8,142.6 170.9,147.6 170.9,148.2 171.0,146.2 171.0,150.2 171.1,149.8 171.1,148.0 171.2,148.1 171.2,146.9 171.3,144.7 171.3,148.0 171.4,146.0 171.4,145.8 171.5,149.4 171.5,146.7 171.6,149.1 171.6,144.9 171.7,146.2 171.7,147.2 171.8,150.0 171.8,147.0 171.9,148.9 171.9,145.8 172.0,147.6 172.0,149.0 172.1,145.4 172.1,145.9 172.2,148.6 172.2,145.0 172.3,148.0 172.4,148.1 172.4,147.2 172.5,149.1 172.5,148.4 172.6,147.9 172.6,144.3 172.7,144.4 172.7,148.1 172.8,144.2 172.8,147.7 172.9,146.8 172.9,145.8 173.0,147.1 173.0,142.7 173.1,147.2 173.1,150.2 173.2,145.0 173.2,148.6 173.3,148.4 173.3,154.1 173.4,145.8 173.4,146.2 173.5,146.2 173.5,145.9 173.6,144.4 173.6,148.1 173.7,146.0 173.7,149.5 173.8,148.8 173.8,145.9 173.9,147.3 173.9,150.9 174.0,147.4 174.0,148.5 174.1,149.9 174.1,147.3 174.2,149.0 174.2,151.5 174.3,150.6 174.3,144.6 174.4,151.4 174.4,147.9 174.5,147.1 174.5,147.0 174.6,150.9 174.6,149.1 174.7,148.1 174.7,146.8 174.8,149.8 174.8,150.9 174.9,146.5 174.9,146.3 175.0,147.8 175.0,149.9 175.1,147.8 175.1,148.4 175.2,146.9 175.2,151.3 175.3,148.5 175.3,149.1 175.4,151.1 175.4,148.4 175.5,148.7 175.5,149.7 175.6,148.1 175.7,151.8 175.7,149.0 175.8,148.1 175.8,148.4 175.9,146.8 175.9,151.5 176.0,152.1 176.0,148.6 176.1,148.2 176.1,144.8 176.2,147.9 176.2,151.0 176.3,147.5 176.3,151.0 176.4,152.3 176.4,143.9 176.5,148.6 176.5,147.9 176.6,148.2 176.6,145.7 176.7,148.8 176.7,146.9 176.8,151.5 176.8,152.3 176.9,146.6 176.9,146.5 177.0,148.5 177.0,149.1 177.1,149.3 177.1,151.0 177.2,146.5 177.2,148.3 177.3,148.7 177.3,149.0 177.4,147.6 177.4,148.8 177.5,148.3 177.5,152.2 177.6,148.8 177.6,145.4 177.7,151.0 177.7,150.2 177.8,148.2 177.8,148.1 177.9,148.8 177.9,153.3 178.0,149.1 178.0,152.5 178.1,151.8 178.1,149.0 178.2,150.8 178.2,148.6 178.3,143.9 178.3,148.7 178.4,148.8 178.4,152.1 178.5,151.6 178.5,152.5 178.6,151.5 178.6,152.6 178.7,151.8 178.7,150.9 178.8,152.5 178.8,153.4 178.9,153.3 179.0,149.7 179.0,150.5 179.1,148.6 179.1,148.6 179.2,151.4 179.2,149.4 179.3,153.6 179.3,146.2 179.4,148.4 179.4,151.3 179.5,153.2 179.5,150.1 179.6,154.7 179.6,152.5 179.7,149.4 179.7,150.8 179.8,152.0 179.8,149.1 179.9,153.1 179.9,150.5 180.0,152.1 180.0,152.8 180.1,150.2 180.1,153.2 180.2,147.4 180.2,152.4 180.3,147.3 180.3,153.5 180.4,150.1 180.4,153.7 180.5,154.1 180.5,151.1 180.6,150.1 180.6,154.0 180.7,149.1 180.7,153.1 180.8,151.3 180.8,150.8 180.9,150.4 180.9,155.2 181.0,148.4 181.0,150.5 181.1,152.5 181.1,153.7 181.2,155.1 181.2,154.5 181.3,150.7 181.3,152.5 181.4,154.1 181.4,152.9 181.5,148.8 181.5,152.5 181.6,153.1 181.6,149.2 181.7,151.0 181.7,151.9 181.8,153.1 181.8,155.0 181.9,154.2 181.9,152.9 182.0,152.4 182.0,151.4 182.1,151.0 182.1,151.5 182.2,151.5 182.2,153.0 182.3,154.1 182.4,151.7 182.4,151.6 182.5,150.6 182.5,149.7 182.6,149.4 182.6,148.4 182.7,147.5 182.7,146.9 182.8,146.6 182.8,146.5 182.9,146.7 182.9,147.3 183.0,147.8 183.0,148.0 183.1,149.7 183.1,149.3 183.2,149.6 183.2,149.8 183.3,152.6 183.3,149.5 183.4,152.1 183.4,152.8 183.5,153.0 183.5,151.7 183.6,152.7 183.6,153.1 183.7,150.5 183.7,154.3 183.8,154.9 183.8,151.5 183.9,151.7 183.9,150.9 184.0,155.2 184.0,151.0 184.1,152.2 184.1,149.7 184.2,155.7 184.2,152.8 184.3,153.8 184.3,156.4 184.4,154.7 184.4,151.2 184.5,154.3 184.5,154.8 184.6,151.7 184.6,151.5 184.7,151.6 184.7,155.0 184.8,153.6 184.8,151.6 184.9,154.9 184.9,155.1 185.0,152.0 185.0,150.6 185.1,155.9 185.1,158.8 185.2,156.5 185.2,155.7 185.3,154.0 185.3,152.6 185.4,154.1 185.4,155.2 185.5,153.6 185.5,155.8 185.6,154.0 185.7,155.2 185.7,148.8 185.8,152.4 185.8,155.6 185.9,156.0 185.9,154.9 186.0,157.3 186.0,155.5 186.1,155.5 186.1,152.4 186.2,155.0 186.2,155.7 186.3,156.8 186.3,156.5 186.4,154.4 186.4,154.7 186.5,152.1 186.5,155.5 186.6,152.3 186.6,153.9 186.7,154.4 186.7,158.3 186.8,156.9 186.8,153.0 186.9,151.8 186.9,154.1 187.0,153.1 187.0,155.3 187.1,155.3 187.1,155.9 187.2,152.7 187.2,154.0 187.3,155.1 187.3,155.3 187.4,153.6 187.4,154.1 187.5,156.3 187.5,151.5 187.6,154.3 187.6,154.8 187.7,152.0 187.7,152.9 187.8,155.0 187.8,153.9 187.9,157.0 187.9,156.2 188.0,159.3 188.0,152.7 188.1,158.6 188.1,153.7 188.2,156.6 188.2,156.9 188.3,155.5 188.3,154.6 188.4,154.0 188.4,151.8 188.5,154.5 188.5,153.5 188.6,156.4 188.6,153.9 188.7,155.0 188.7,156.2 188.8,155.5 188.8,155.5 188.9,155.0 189.0,154.6 189.0,156.4 189.1,156.8 189.1,154.0 189.2,158.7 189.2,156.7 189.3,152.6 189.3,160.7 189.4,156.9 189.4,154.3 189.5,158.7 189.5,150.7 189.6,160.6 189.6,152.9 189.7,152.7 189.7,154.0 189.8,156.1 189.8,155.1 189.9,157.5 189.9,154.3 190.0,157.9 190.0,156.3 190.1,154.0 190.1,158.0 190.2,156.6 190.2,155.6 190.3,158.5 190.3,153.8 190.4,155.3 190.4,158.9 190.5,156.1 190.5,157.5 190.6,157.3 190.6,155.9 190.7,157.4 190.7,154.3 190.8,157.5 190.8,154.3 190.9,156.3 190.9,154.6 191.0,157.2 191.0,157.2 191.1,158.4 191.1,155.2 191.2,154.5 191.2,152.3 191.3,153.9 191.3,155.9 191.4,156.8 191.4,155.7 191.5,156.5 191.5,153.7 191.6,154.7 191.6,158.1 191.7,157.8 191.7,154.0 191.8,156.0 191.8,157.0 191.9,154.4 191.9,157.3 192.0,157.2 192.0,157.5 192.1,160.3 192.1,155.1 192.2,159.0 192.2,157.8 192.3,158.1 192.4,155.4 192.4,156.9 192.5,156.8 192.5,160.0 192.6,157.0 192.6,159.6 192.7,156.3 192.7,156.2 192.8,157.0 192.8,153.1 192.9,156.0 192.9,155.9 193.0,156.8 193.0,157.4 193.1,155.3 193.1,155.0 193.2,159.5 193.2,155.2 193.3,156.2 193.3,155.4 193.4,156.3 193.4,159.5 193.5,159.4 193.5,153.8 193.6,156.8 193.6,159.9 193.7,156.6 193.7,158.0 193.8,160.8 193.8,161.6 193.9,160.3 193.9,156.9 194.0,157.5 194.0,157.9 194.1,156.9 194.1,156.4 194.2,161.4 194.2,158.1 194.3,159.1 194.3,159.8 194.4,158.6 194.4,157.8 194.5,158.1 194.5,160.3 194.6,158.5 194.6,153.9 194.7,159.6 194.7,160.8 194.8,157.2 194.8,156.6 194.9,156.9 194.9,159.8 195.0,155.9 195.0,159.3 195.1,159.9 195.1,159.0 195.2,158.1 195.2,156.6 195.3,156.8 195.3,158.0 195.4,156.2 195.4,157.8 195.5,156.3 195.5,160.6 195.6,160.9 195.7,156.6 195.7,160.6 195.8,158.6 195.8,158.3 195.9,159.0 195.9,159.0 196.0,155.6 196.0,162.8 196.1,156.6 196.1,154.0 196.2,158.2 196.2,158.3 196.3,156.9 196.3,154.9 196.4,160.5 196.4,158.2 196.5,158.7 196.5,157.3 196.6,158.1 196.6,157.2 196.7,159.2 196.7,158.3 196.8,159.7 196.8,159.7 196.9,158.7 196.9,158.8 197.0,160.7 197.0,155.7 197.1,158.8 197.1,161.1 197.2,156.6 197.2,160.0 197.3,157.7 197.3,158.7 197.4,158.2 197.4,158.4 197.5,159.7 197.5,158.6 197.6,155.0 197.6,162.8 197.7,158.6 197.7,158.0 197.8,160.7 197.8,161.3 197.9,154.9 197.9,159.5 198.0,155.1 198.0,157.9 198.1,158.8 198.1,158.0 198.2,157.8 198.2,156.8 198.3,158.2 198.3,158.7 198.4,158.7 198.4,156.6 198.5,157.6 198.5,160.9 198.6,160.2 198.6,158.5 198.7,160.2 198.7,159.8 198.8,160.9 198.8,159.6 198.9,158.4 199.0,157.4 199.0,159.2 199.1,155.5 199.1,159.4 199.2,153.5 199.2,157.5 199.3,158.4 199.3,160.2 199.4,164.4 199.4,159.6 199.5,159.0 199.5,155.9 199.6,161.9 199.6,156.0 199.7,159.9 199.7,158.1 199.8,164.0 199.8,159.2 199.9,160.1 199.9,158.3 200.0,159.4 200.0,161.6 200.1,157.8 200.1,158.3 200.2,158.5 200.2,157.8 200.3,157.6 200.3,159.7 200.4,162.1 200.4,162.1 200.5,157.2 200.5,158.4 200.6,159.5 200.6,160.5 200.7,159.7 200.7,159.7 200.8,160.4 200.8,161.0 200.9,155.9 200.9,159.4 201.0,160.9 201.0,162.2 201.1,161.2 201.1,158.6 201.2,158.5 201.2,160.3 201.3,159.8 201.3,160.5 201.4,161.9 201.4,157.6 201.5,159.3 201.5,155.6 201.6,161.4 201.6,160.3 201.7,158.5 201.7,160.5 201.8,162.6 201.8,161.8 201.9,159.9 201.9,159.5 202.0,160.3 202.0,158.4 202.1,158.4 202.1,159.6 202.2,160.2 202.3,160.7 202.3,159.3 202.4,158.6 202.4,160.2 202.5,159.5 202.5,160.9 202.6,162.8 202.6,162.1 202.7,159.0 202.7,159.6 202.8,157.5 202.8,160.3 202.9,158.9 202.9,158.1 203.0,158.7 203.0,161.5 203.1,160.8 203.1,160.2 203.2,162.2 203.2,159.7 203.3,158.7 203.3,161.4 203.4,157.0 203.4,161.1 203.5,160.9 203.5,161.0 203.6,161.9 203.6,159.9 203.7,160.6 203.7,157.7 203.8,159.6 203.8,159.7 203.9,161.1 203.9,163.2 204.0,160.9 204.0,162.2 204.1,159.1 204.1,160.8 204.2,157.8 204.2,159.5 204.3,159.3 204.3,160.4 204.4,160.5 204.4,159.7 204.5,159.2 204.5,162.1 204.6,160.0 204.6,156.3 204.7,161.1 204.7,161.4 204.8,162.2 204.8,163.5 204.9,158.9 204.9,160.9 205.0,160.5 205.0,157.8 205.1,156.6 205.1,162.6 205.2,159.2 205.2,160.0 205.3,160.4 205.3,160.3 205.4,161.2 205.4,158.4 205.5,160.1 205.5,160.6 205.6,159.0 205.7,159.6 205.7,160.4 205.8,160.7 205.8,158.2 205.9,160.4 205.9,161.4 206.0,162.8 206.0,161.9 206.1,163.2 206.1,161.1 206.2,160.9 206.2,165.0 206.3,161.4 206.3,160.3 206.4,161.1 206.4,163.1 206.5,159.2 206.5,162.7 206.6,163.6 206.6,163.4 206.7,161.5 206.7,159.8 206.8,159.5 206.8,161.2 206.9,163.6 206.9,162.7 207.0,163.2 207.0,161.9 207.1,164.7 207.1,161.4 207.2,160.5 207.2,161.9 207.3,160.9 207.3,163.3 207.4,164.2 207.4,162.8 207.5,159.7 207.5,160.0 207.6,162.6 207.6,159.7 207.7,162.4 207.7,159.2 207.8,161.0 207.8,162.6 207.9,160.5 207.9,163.2 208.0,163.5 208.0,164.4 208.1,161.5 208.1,162.0 208.2,162.1 208.2,162.7 208.3,159.5 208.3,162.7 208.4,163.3 208.4,159.9 208.5,159.6 208.5,161.5 208.6,165.1 208.6,163.1 208.7,161.0 208.7,162.1 208.8,159.4 208.8,164.5 208.9,161.0 209.0,163.3 209.0,159.9 209.1,162.3 209.1,160.4 209.2,163.3 209.2,164.7 209.3,164.2 209.3,163.3 209.4,164.1 209.4,160.2 209.5,160.0 209.5,161.9 209.6,164.1 209.6,162.6 209.7,163.6 209.7,159.9 209.8,161.9 209.8,161.6 209.9,163.1 209.9,165.9 210.0,163.8 210.0,164.4 210.1,161.9 210.1,162.3 210.2,163.9 210.2,163.2 210.3,159.9 210.3,164.2 210.4,164.2 210.4,163.0 210.5,163.8 210.5,163.4 210.6,161.7 210.6,159.7 210.7,165.7 210.7,162.7 210.8,162.6 210.8,162.9 210.9,163.1 210.9,163.3 211.0,161.1 211.0,163.6 211.1,163.0 211.1,162.8 211.2,162.7 211.2,163.1 211.3,161.2 211.3,162.9 211.4,162.6 211.4,163.0 211.5,164.7 211.5,164.4 211.6,164.8 211.6,162.7 211.7,164.2 211.7,164.8 211.8,162.6 211.8,162.1 211.9,166.1 211.9,160.2 212.0,163.0 212.0,163.3 212.1,161.3 212.1,163.0 212.2,164.2 212.3,159.4 212.3,165.0 212.4,163.4 212.4,161.8 212.5,165.1 212.5,163.4 212.6,162.6 212.6,159.2 212.7,164.8 212.7,163.4 212.8,162.2 212.8,163.2 212.9,165.4 212.9,162.7 213.0,163.2 213.0,162.7 213.1,161.5 213.1,161.7 213.2,162.8 213.2,163.0 213.3,165.4 213.3,163.7 213.4,163.2 213.4,164.2 213.5,163.4 213.5,165.0 213.6,161.0 213.6,160.0 213.7,164.3 213.7,163.0 213.8,164.1 213.8,161.5 213.9,163.0 213.9,163.6 214.0,164.1 214.0,163.5 214.1,165.5 214.1,162.6 214.2,165.0 214.2,162.9 214.3,163.6 214.3,162.0 214.4,163.9 214.4,162.2 214.5,165.4 214.5,162.9 214.6,164.3 214.6,163.6 214.7,163.8 214.7,162.4 214.8,167.4 214.8,163.5 214.9,166.5 214.9,162.0 215.0,167.4 215.0,165.8 215.1,166.9 215.1,161.4 215.2,166.3 215.2,164.0 215.3,165.1 215.3,167.2 215.4,164.8 215.4,163.1 215.5,164.5 215.6,162.7 215.6,164.9 215.7,164.3 215.7,164.9 215.8,163.7 215.8,161.1 215.9,163.7 215.9,164.0 216.0,165.4 216.0,165.7 216.1,162.0 216.1,166.3 216.2,166.0 216.2,164.6 216.3,165.2 216.3,161.2 216.4,168.5 216.4,163.9 216.5,163.3 216.5,166.4 216.6,165.6 216.6,163.9 216.7,161.9 216.7,166.1 216.8,167.3 216.8,163.0 216.9,162.1 216.9,165.2 217.0,168.4 217.0,162.3 217.1,165.1 217.1,162.9 217.2,164.8 217.2,165.4 217.3,165.5 217.3,162.4 217.4,162.4 217.4,168.4 217.5,166.4 217.5,161.9 217.6,165.5 217.6,167.2 217.7,164.9 217.7,165.1 217.8,165.1 217.8,165.8 217.9,165.5 217.9,165.8 218.0,164.5 218.0,166.4 218.1,165.5 218.1,165.3 218.2,162.9 218.2,164.5 218.3,165.3 218.3,164.2 218.4,164.5 218.4,163.4 218.5,164.3 218.5,162.2 218.6,163.0 218.6,165.3 218.7,165.9 218.7,163.8 218.8,164.4 218.8,165.4 218.9,167.7 219.0,168.3 219.0,164.8 219.1,164.1 219.1,164.0 219.2,167.5 219.2,163.7 219.3,166.3 219.3,164.8 219.4,164.8 219.4,166.8 219.5,166.4 219.5,168.9 219.6,167.0 219.6,168.5 219.7,164.8 219.7,165.4 219.8,164.1 219.8,165.0 219.9,166.6 219.9,165.0 220.0,166.3 220.0,164.6 220.1,165.1 220.1,167.3 220.2,165.7 220.2,165.6 220.3,166.2 220.3,164.3 220.4,162.9 220.4,166.3 220.5,166.3 220.5,169.4 220.6,166.0 220.6,166.5 220.7,169.3 220.7,165.4 220.8,164.9 220.8,167.1 220.9,166.5 220.9,167.5 221.0,164.7 221.0,168.4 221.1,166.4 221.1,162.8 221.2,165.9 221.2,165.2 221.3,166.2 221.3,167.9 221.4,166.1 221.4,165.4 221.5,167.7 221.5,165.5 221.6,164.0 221.6,164.3 221.7,168.7 221.7,167.7 221.8,168.7 221.8,164.4 221.9,165.2 221.9,165.0 222.0,167.6 222.0,168.1 222.1,166.1 222.1,166.0 222.2,167.6 222.3,166.0 222.3,165.2 222.4,165.9 222.4,168.0 222.5,169.7 222.5,166.7 222.6,166.0 222.6,166.7 222.7,167.0 222.7,167.5 222.8,165.2 222.8,166.5 222.9,166.2 222.9,168.0 223.0,167.4 223.0,166.2 223.1,168.1 223.1,168.5 223.2,167.0 223.2,164.5 223.3,166.2 223.3,164.1 223.4,166.7 223.4,167.0 223.5,168.8 223.5,167.5 223.6,164.2 223.6,166.0 223.7,165.4 223.7,165.5 223.8,166.6 223.8,166.9 223.9,166.4 223.9,165.6 224.0,165.9 224.0,165.9 224.1,166.4 224.1,167.9 224.2,167.1 224.2,168.2 224.3,165.1 224.3,170.1 224.4,167.1 224.4,162.9 224.5,167.3 224.5,168.6 224.6,166.8 224.6,164.7 224.7,167.1 224.7,165.9 224.8,166.7 224.8,167.5 224.9,161.8 224.9,166.8 225.0,167.8 225.0,167.7 225.1,166.3 225.1,166.3 225.2,165.7 225.2,166.7 225.3,169.3 225.3,166.1 225.4,167.5 225.4,167.5 225.5,169.4 225.6,167.9 225.6,168.2 225.7,167.1 225.7,169.4 225.8,167.0 225.8,166.9 225.9,168.9 225.9,168.1 226.0,168.5 226.0,165.7 226.1,171.2 226.1,167.7 226.2,169.8 226.2,167.9 226.3,165.8 226.3,168.2 226.4,167.0 226.4,168.6 226.5,164.1 226.5,165.8 226.6,165.5 226.6,169.4 226.7,169.0 226.7,165.6 226.8,167.6 226.8,167.7 226.9,166.8 226.9,169.3 227.0,166.1 227.0,167.3 227.1,166.6 227.1,168.4 227.2,166.6 227.2,168.5 227.3,165.9 227.3,165.6 227.4,166.0 227.4,166.6 227.5,166.4 227.5,171.7 227.6,166.1 227.6,167.9 227.7,167.3 227.7,168.0 227.8,169.7 227.8,168.4 227.9,166.5 227.9,165.3 228.0,168.5 228.0,169.0 228.1,165.3 228.1,169.0 228.2,164.3 228.2,167.5 228.3,169.0 228.3,166.1 228.4,165.0 228.4,169.9 228.5,165.2 228.5,168.1 228.6,165.3 228.6,168.3 228.7,170.2 228.7,166.9 228.8,166.3 228.8,164.4 228.9,165.0 229.0,166.7 229.0,168.1 229.1,168.6 229.1,168.3 229.2,169.1 229.2,168.2 229.3,171.8 229.3,167.5 229.4,167.9 229.4,163.8 229.5,166.7 229.5,168.6 229.6,167.0 229.6,169.8 229.7,168.8 229.7,170.8 229.8,165.7 229.8,167.0 229.9,169.8 229.9,168.0 230.0,166.5 230.0,167.2 230.1,167.4 230.1,169.3 230.2,169.0 230.2,167.9 230.3,166.6 230.3,169.3 230.4,169.8 230.4,166.3 230.5,169.5 230.5,166.4 230.6,167.7 230.6,166.7 230.7,165.4 230.7,167.0 230.8,166.9 230.8,169.6 230.9,169.2 230.9,167.1 231.0,165.8 231.0,166.0 231.1,164.6 231.1,167.7 231.2,167.9 231.2,166.6 231.3,168.2 231.3,168.3 231.4,169.9 231.4,166.7 231.5,169.9 231.5,167.5 231.6,170.5 231.6,166.6 231.7,169.9 231.7,167.0 231.8,170.8 231.8,169.0 231.9,166.5 231.9,169.6 232.0,168.2 232.0,169.1 232.1,172.0 232.1,167.9 232.2,167.7 232.3,170.1 232.3,167.5 232.4,169.6 232.4,170.0 232.5,168.4 232.5,169.5 232.6,164.9 232.6,170.9 232.7,167.3 232.7,166.9 232.8,171.6 232.8,171.2 232.9,167.6 232.9,169.2 233.0,167.9 233.0,166.8 233.1,169.1 233.1,170.2 233.2,172.8 233.2,168.2 233.3,170.0 233.3,168.1 233.4,168.2 233.4,170.7 233.5,165.9 233.5,166.9 233.6,167.3 233.6,170.5 233.7,169.3 233.7,169.5 233.8,169.3 233.8,170.4 233.9,168.0 233.9,168.3 234.0,168.1 234.0,169.5 234.1,166.7 234.1,168.4 234.2,172.9 234.2,169.7 234.3,168.8 234.3,167.2 234.4,169.2 234.4,169.1 234.5,169.8 234.5,167.7 234.6,169.5 234.6,169.7 234.7,169.9 234.7,167.9 234.8,169.6 234.8,171.4 234.9,167.9 234.9,169.9 235.0,168.3 235.0,168.3 235.1,167.0 235.1,167.3 235.2,169.8 235.2,169.1 235.3,170.9 235.3,166.3 235.4,168.2 235.4,166.8 235.5,169.4 235.6,172.1 235.6,166.6 235.7,168.8 235.7,168.7 235.8,168.9 235.8,168.0 235.9,168.1 235.9,171.4 236.0,167.3 236.0,169.8 236.1,169.7 236.1,166.3 236.2,167.6 236.2,169.5 236.3,171.9 236.3,168.8 236.4,168.2 236.4,169.2 236.5,171.0 236.5,170.3 236.6,171.0 236.6,168.7 236.7,167.8 236.7,167.5 236.8,170.2 236.8,168.7 236.9,168.3 236.9,169.9 237.0,169.4 237.0,165.9 237.1,168.8 237.1,167.8 237.2,169.8 237.2,169.1 237.3,171.8 237.3,169.2 237.4,167.4 237.4,166.0 237.5,167.4 237.5,168.2 237.6,169.1 237.6,170.1 237.7,169.5 237.7,168.3 237.8,170.4 237.8,167.8 237.9,170.8 237.9,172.0 238.0,170.8 238.0,171.8 238.1,171.4 238.1,167.6 238.2,169.6 238.2,169.0 238.3,167.5 238.3,167.4 238.4,170.1 238.4,167.3 238.5,168.7 238.5,169.3 238.6,168.7 238.6,171.5 238.7,170.6 238.7,169.5 238.8,168.4 238.9,169.9 238.9,169.6 239.0,167.9 239.0,167.2 239.1,168.2 239.1,167.5 239.2,170.0 239.2,169.9 239.3,168.9 239.3,169.9 239.4,170.2 239.4,166.9 239.5,169.8 239.5,170.9 239.6,168.7 239.6,166.7 239.7,169.4 239.7,167.6 239.8,170.2 239.8,170.3 239.9,170.6 239.9,169.7 240.0,166.7 240.0,171.3 240.1,167.0 240.1,171.1 240.2,169.9 240.2,168.3 240.3,168.6 240.3,169.1 240.4,172.1 240.4,169.0 240.5,171.1 240.5,165.7 240.6,169.9 240.6,169.3 240.7,171.4 240.7,170.3 240.8,171.6 240.8,168.1 240.9,170.0 240.9,168.8 241.0,170.7 241.0,170.4 241.1,167.7 241.1,171.1 241.2,172.4 241.2,169.1 241.3,171.4 241.3,170.4 241.4,168.3 241.4,170.9 241.5,168.4 241.5,170.7 241.6,167.5 241.6,167.7 241.7,170.4 241.7,170.1 241.8,171.0 241.8,169.4 241.9,168.0 241.9,171.9 242.0,168.4 242.0,171.8 242.1,171.1 242.1,172.5 242.2,166.6 242.3,169.7 242.3,169.4 242.4,170.8 242.4,168.2 242.5,173.0 242.5,169.8 242.6,166.5 242.6,170.4 242.7,169.8 242.7,168.8 242.8,171.1 242.8,169.8 242.9,168.4 242.9,169.6 243.0,169.3 243.0,170.4 243.1,169.4 243.1,169.8 243.2,167.7 243.2,168.8 243.3,170.3 243.3,173.6 243.4,168.8 243.4,168.8 243.5,171.3 243.5,172.9 243.6,171.6 243.6,168.5 243.7,171.5 243.7,170.6 243.8,169.6 243.8,168.1 243.9,170.0 243.9,170.1 244.0,170.8 244.0,167.5 244.1,168.4 244.1,170.1 244.2,172.1 244.2,171.2 244.3,169.1 244.3,171.1 244.4,168.7 244.4,169.5 244.5,169.6 244.5,169.0 244.6,169.3 244.6,171.3 244.7,170.5 244.7,166.5 244.8,171.9 244.8,170.8 244.9,168.4 244.9,170.3 245.0,171.3 245.0,172.1 245.1,169.3 245.1,168.5 245.2,168.0 245.2,170.0 245.3,168.5 245.3,171.6 245.4,169.8 245.4,171.1 245.5,169.8" fill="none" stroke="#000" stroke-width="0.9" stroke-linejoin="round"/>
<g font-size="7.5" text-anchor="middle">
<text x="102.8" y="55.0">M</text>
<text x="109.8" y="52.7">C</text>
<text x="113.3" y="72.5">C</text>
<text x="118.3" y="68.7">M</text>
<text x="121.5" y="113.6">Q</text>
<text x="129.2" y="120.9">M</text>
<text x="135.5" y="129.8">Q</text>
<text x="141" y="130.2">Q</text>
<text x="150.6" y="125.8">M</text>
<text x="155.3" y="134.9">M</text>
<text x="159.1" y="135.8">M</text>
<text x="164.2" y="137.4">M</text>
<text x="182.8" y="143.9">M</text>
</g>
<rect x="340.5" y="9.5" width="202.9" height="184.9" fill="none" stroke="#000" stroke-width="1"/>
<path d="M378.5,194.4v3.6M429.3,194.4v3.6M480.0,194.4v3.6M530.7,194.4v3.6M353.2,194.4v2M403.9,194.4v2M454.6,194.4v2M505.4,194.4v2M340.5,194.4h-3.5M340.5,157.4h-3.5M340.5,120.4h-3.5M340.5,83.5h-3.5M340.5,46.5h-3.5M340.5,9.5h-3.5M340.5,175.9h-2M340.5,138.9h-2M340.5,102.0h-2M340.5,65.0h-2M340.5,28.0h-2" stroke="#000" stroke-width="1" fill="none"/>
<g font-size="10" text-anchor="end">
<text transform="translate(332.8,197.8) scale(1,1.12)" >0</text>
<text transform="translate(332.8,160.8) scale(1,1.12)" >1000</text>
<text transform="translate(332.8,123.8) scale(1,1.12)" >2000</text>
<text transform="translate(332.8,86.9) scale(1,1.12)" >3000</text>
<text transform="translate(332.8,49.9) scale(1,1.12)" >4000</text>
<text transform="translate(332.8,12.9) scale(1,1.12)" >5000</text>
</g>
<g font-size="10" text-anchor="middle">
<text transform="translate(378.5,209.1) scale(1,1.12)" >20</text>
<text transform="translate(429.3,209.1) scale(1,1.12)" >40</text>
<text transform="translate(480.0,209.1) scale(1,1.12)" >60</text>
<text transform="translate(530.7,209.1) scale(1,1.12)" >80</text>
<text transform="translate(311.3,101.8) scale(1,1.23) rotate(-90)">Intensity (a.u.)</text>
</g>
<text transform="translate(408.5,226.0) scale(1,1.12)" font-size="9" fill="#333" stroke="none" textLength="66.8" lengthAdjust="spacing">2 Theta (degree)</text>
<g font-size="10"><text transform="translate(494.9,22.1) scale(1,1.12)" >Q-Quartz</text><text transform="translate(494.9,36.0) scale(1,1.12)" >H-Hematite</text><text transform="translate(494.9,49.8) scale(1,1.12)" >M-Mullite</text></g>
<polyline points="340.5,118.3 340.6,117.9 340.6,120.7 340.7,117.7 340.7,120.1 340.8,120.9 340.8,119.8 340.9,121.5 340.9,119.6 341.0,119.2 341.0,119.9 341.1,118.9 341.1,120.0 341.2,119.6 341.2,121.6 341.3,119.6 341.3,120.8 341.4,120.3 341.4,119.9 341.5,119.5 341.5,122.0 341.6,121.9 341.6,120.3 341.7,119.3 341.7,119.5 341.8,118.8 341.8,118.3 341.9,119.4 341.9,120.1 342.0,121.5 342.0,121.4 342.1,120.8 342.1,119.8 342.2,119.9 342.2,120.2 342.3,120.4 342.3,119.4 342.4,119.9 342.4,119.8 342.5,119.8 342.5,120.9 342.6,121.6 342.6,119.6 342.7,119.7 342.7,120.5 342.8,120.8 342.8,117.2 342.9,121.3 342.9,120.6 343.0,120.0 343.0,121.9 343.1,120.3 343.1,118.1 343.2,119.3 343.2,119.7 343.3,119.9 343.3,120.6 343.4,119.5 343.4,121.1 343.5,121.5 343.5,120.9 343.6,120.0 343.6,120.8 343.7,120.5 343.7,124.1 343.8,120.0 343.8,118.6 343.9,120.0 344.0,122.2 344.0,123.0 344.1,121.6 344.1,123.4 344.2,121.2 344.2,122.9 344.3,121.1 344.3,120.6 344.4,125.1 344.4,122.1 344.5,123.4 344.5,124.4 344.6,123.3 344.6,122.8 344.7,121.2 344.7,124.5 344.8,121.1 344.8,119.7 344.9,121.5 344.9,121.5 345.0,122.1 345.0,123.5 345.1,121.2 345.1,121.3 345.2,120.7 345.2,118.2 345.3,120.5 345.3,120.7 345.4,119.2 345.4,122.8 345.5,122.5 345.5,121.4 345.6,121.7 345.6,119.9 345.7,121.1 345.7,118.4 345.8,118.7 345.8,119.7 345.9,121.2 345.9,120.0 346.0,119.8 346.0,122.3 346.1,120.6 346.1,120.3 346.2,121.1 346.2,119.5 346.3,120.1 346.3,122.9 346.4,121.9 346.4,123.3 346.5,121.7 346.5,123.7 346.6,121.6 346.6,122.5 346.7,121.9 346.7,123.5 346.8,125.4 346.8,121.4 346.9,124.0 346.9,122.2 347.0,123.5 347.0,123.3 347.1,122.0 347.1,124.0 347.2,122.7 347.2,126.5 347.3,123.5 347.3,125.0 347.4,124.9 347.5,124.8 347.5,124.4 347.6,122.8 347.6,127.3 347.7,124.9 347.7,126.0 347.8,123.6 347.8,125.7 347.9,124.6 347.9,125.7 348.0,124.4 348.0,124.1 348.1,125.9 348.1,125.4 348.2,127.4 348.2,125.2 348.3,124.6 348.3,126.5 348.4,124.4 348.4,128.5 348.5,128.3 348.5,127.8 348.6,126.7 348.6,126.2 348.7,126.3 348.7,126.4 348.8,125.4 348.8,127.0 348.9,128.1 348.9,128.1 349.0,123.9 349.0,129.5 349.1,126.8 349.1,124.8 349.2,126.1 349.2,127.8 349.3,126.7 349.3,125.7 349.4,125.3 349.4,128.0 349.5,125.9 349.5,126.6 349.6,125.5 349.6,125.2 349.7,127.4 349.7,128.8 349.8,126.5 349.8,124.8 349.9,126.2 349.9,126.8 350.0,124.1 350.0,128.5 350.1,126.0 350.1,127.9 350.2,127.2 350.2,127.1 350.3,125.4 350.3,128.5 350.4,128.0 350.4,129.3 350.5,126.7 350.5,127.9 350.6,126.9 350.6,128.7 350.7,127.9 350.7,126.2 350.8,127.7 350.9,126.7 350.9,126.9 351.0,128.0 351.0,129.5 351.1,126.4 351.1,127.4 351.2,126.4 351.2,130.2 351.3,129.8 351.3,130.4 351.4,128.9 351.4,126.5 351.5,127.1 351.5,127.9 351.6,127.7 351.6,127.0 351.7,128.4 351.7,127.6 351.8,127.9 351.8,130.9 351.9,128.7 351.9,126.6 352.0,128.9 352.0,128.6 352.1,129.3 352.1,129.2 352.2,127.3 352.2,129.1 352.3,130.1 352.3,132.8 352.4,129.7 352.4,131.5 352.5,131.5 352.5,128.3 352.6,128.5 352.6,131.8 352.7,128.5 352.7,129.1 352.8,130.7 352.8,128.9 352.9,131.8 352.9,131.4 353.0,131.7 353.0,131.4 353.1,129.0 353.1,131.8 353.2,131.6 353.2,131.4 353.3,130.1 353.3,130.8 353.4,129.4 353.4,131.4 353.5,132.1 353.5,131.2 353.6,130.6 353.6,131.8 353.7,130.4 353.7,128.6 353.8,131.6 353.8,130.9 353.9,129.4 353.9,131.9 354.0,132.2 354.0,132.6 354.1,130.9 354.1,130.8 354.2,131.7 354.2,131.6 354.3,130.2 354.4,130.8 354.4,133.7 354.5,132.1 354.5,132.0 354.6,131.4 354.6,132.6 354.7,133.3 354.7,133.1 354.8,134.8 354.8,132.8 354.9,133.6 354.9,132.4 355.0,134.3 355.0,133.7 355.1,134.5 355.1,134.7 355.2,132.7 355.2,134.2 355.3,133.2 355.3,135.2 355.4,133.8 355.4,136.1 355.5,134.7 355.5,134.9 355.6,133.7 355.6,134.3 355.7,134.8 355.7,133.6 355.8,134.5 355.8,134.2 355.9,134.0 355.9,135.0 356.0,135.4 356.0,134.6 356.1,135.6 356.1,134.6 356.2,133.8 356.2,134.1 356.3,135.6 356.3,136.7 356.4,135.2 356.4,135.3 356.5,133.8 356.5,135.5 356.6,135.3 356.6,134.1 356.7,135.6 356.7,135.1 356.8,132.9 356.8,133.1 356.9,134.1 356.9,134.5 357.0,136.0 357.0,134.1 357.1,134.7 357.1,134.4 357.2,135.3 357.2,134.6 357.3,134.8 357.3,134.2 357.4,132.8 357.4,134.1 357.5,136.4 357.5,135.6 357.6,136.3 357.6,135.3 357.7,133.6 357.8,133.8 357.8,134.9 357.9,133.9 357.9,135.1 358.0,135.8 358.0,135.8 358.1,135.1 358.1,132.4 358.2,135.7 358.2,132.6 358.3,132.6 358.3,134.4 358.4,134.2 358.4,134.9 358.5,134.3 358.5,133.5 358.6,134.3 358.6,133.2 358.7,133.0 358.7,134.0 358.8,134.1 358.8,134.6 358.9,134.1 358.9,135.9 359.0,134.1 359.0,134.4 359.1,135.6 359.1,132.1 359.2,135.8 359.2,135.7 359.3,134.3 359.3,136.9 359.4,135.6 359.4,136.4 359.5,135.8 359.5,134.8 359.6,134.3 359.6,133.3 359.7,133.7 359.7,133.3 359.8,134.0 359.8,135.3 359.9,133.4 359.9,135.4 360.0,135.6 360.0,133.1 360.1,134.1 360.1,134.8 360.2,134.3 360.2,134.2 360.3,136.9 360.3,135.5 360.4,136.9 360.4,135.5 360.5,136.5 360.5,134.2 360.6,135.3 360.6,137.0 360.7,136.2 360.7,137.7 360.8,136.3 360.8,135.8 360.9,136.3 360.9,138.9 361.0,137.1 361.0,136.2 361.1,136.5 361.2,135.6 361.2,138.5 361.3,136.5 361.3,137.9 361.4,136.9 361.4,136.7 361.5,136.4 361.5,137.9 361.6,137.1 361.6,138.7 361.7,139.0 361.7,136.7 361.8,137.4 361.8,139.3 361.9,138.4 361.9,137.4 362.0,135.6 362.0,136.2 362.1,136.5 362.1,139.5 362.2,137.6 362.2,136.9 362.3,137.0 362.3,137.0 362.4,137.7 362.4,135.4 362.5,135.8 362.5,137.6 362.6,138.6 362.6,135.1 362.7,138.1 362.7,136.1 362.8,135.3 362.8,138.6 362.9,137.1 362.9,137.9 363.0,136.9 363.0,137.1 363.1,135.2 363.1,136.8 363.2,137.5 363.2,136.1 363.3,137.8 363.3,137.9 363.4,134.9 363.4,138.4 363.5,138.1 363.5,137.5 363.6,138.8 363.6,140.0 363.7,136.4 363.7,138.5 363.8,138.3 363.8,138.1 363.9,138.9 363.9,139.0 364.0,137.6 364.0,135.0 364.1,137.0 364.1,137.0 364.2,139.6 364.2,137.9 364.3,139.3 364.3,137.0 364.4,138.2 364.4,137.9 364.5,138.0 364.5,138.5 364.6,139.6 364.7,137.2 364.7,139.4 364.8,139.2 364.8,138.1 364.9,138.6 364.9,137.4 365.0,136.6 365.0,137.5 365.1,137.5 365.1,137.7 365.2,136.8 365.2,139.9 365.3,137.4 365.3,138.9 365.4,139.3 365.4,137.9 365.5,138.5 365.5,137.4 365.6,136.9 365.6,140.9 365.7,138.4 365.7,136.1 365.8,137.4 365.8,136.8 365.9,138.5 365.9,140.3 366.0,140.0 366.0,138.0 366.1,137.7 366.1,139.7 366.2,139.2 366.2,138.7 366.3,141.0 366.3,139.4 366.4,137.2 366.4,136.5 366.5,139.2 366.5,136.9 366.6,139.6 366.6,139.9 366.7,141.5 366.7,137.8 366.8,139.3 366.8,136.1 366.9,138.4 366.9,138.5 367.0,140.8 367.0,136.9 367.1,139.0 367.1,138.7 367.2,141.0 367.2,137.4 367.3,137.2 367.3,139.1 367.4,138.2 367.4,137.9 367.5,137.2 367.5,138.2 367.6,136.3 367.6,138.5 367.7,139.0 367.7,138.8 367.8,141.2 367.8,139.2 367.9,137.1 367.9,137.9 368.0,139.2 368.1,137.8 368.1,140.6 368.2,138.6 368.2,137.6 368.3,137.4 368.3,139.0 368.4,137.0 368.4,135.9 368.5,138.5 368.5,137.1 368.6,139.6 368.6,140.0 368.7,136.9 368.7,137.4 368.8,137.0 368.8,137.7 368.9,137.1 368.9,135.5 369.0,134.0 369.0,135.2 369.1,135.0 369.1,130.6 369.2,128.0 369.2,123.5 369.3,117.9 369.3,110.4 369.4,103.7 369.4,97.4 369.5,93.6 369.5,93.3 369.6,96.7 369.6,102.7 369.7,109.7 369.7,116.9 369.8,121.7 369.8,127.8 369.9,130.6 369.9,132.1 370.0,134.8 370.0,133.8 370.1,134.2 370.1,135.6 370.2,133.4 370.2,135.6 370.3,135.6 370.3,137.2 370.4,138.2 370.4,137.2 370.5,136.9 370.5,137.2 370.6,135.9 370.6,139.7 370.7,138.3 370.7,139.1 370.8,135.4 370.8,137.7 370.9,137.7 370.9,138.3 371.0,136.0 371.0,137.5 371.1,136.7 371.1,139.3 371.2,135.4 371.2,136.3 371.3,136.0 371.3,135.1 371.4,136.7 371.4,136.5 371.5,135.4 371.6,135.6 371.6,136.3 371.7,135.9 371.7,136.4 371.8,134.8 371.8,134.5 371.9,135.5 371.9,133.2 372.0,137.1 372.0,135.5 372.1,133.1 372.1,135.5 372.2,136.8 372.2,133.2 372.3,134.2 372.3,136.2 372.4,133.8 372.4,135.9 372.5,136.2 372.5,134.8 372.6,135.2 372.6,135.9 372.7,135.0 372.7,135.7 372.8,134.5 372.8,134.6 372.9,133.7 372.9,135.1 373.0,136.1 373.0,136.1 373.1,134.8 373.1,132.7 373.2,133.5 373.2,135.3 373.3,133.3 373.3,135.8 373.4,133.2 373.4,134.8 373.5,133.3 373.5,133.4 373.6,134.5 373.6,133.6 373.7,135.2 373.7,134.0 373.8,132.5 373.8,128.8 373.9,132.8 373.9,133.4 374.0,134.7 374.0,132.1 374.1,135.4 374.1,134.3 374.2,132.9 374.2,134.7 374.3,131.4 374.3,132.0 374.4,134.0 374.4,134.0 374.5,135.0 374.5,135.1 374.6,132.9 374.6,132.8 374.7,133.2 374.7,133.3 374.8,134.4 374.8,133.3 374.9,135.6 375.0,133.9 375.0,132.2 375.1,132.4 375.1,134.6 375.2,134.5 375.2,132.5 375.3,132.0 375.3,136.0 375.4,134.7 375.4,133.9 375.5,132.7 375.5,135.2 375.6,133.4 375.6,134.5 375.7,131.2 375.7,133.5 375.8,134.1 375.8,134.3 375.9,132.5 375.9,132.9 376.0,135.0 376.0,133.3 376.1,135.1 376.1,134.2 376.2,134.8 376.2,134.7 376.3,133.8 376.3,134.0 376.4,132.0 376.4,131.5 376.5,132.6 376.5,133.6 376.6,131.1 376.6,134.4 376.7,134.1 376.7,130.7 376.8,130.6 376.8,130.1 376.9,131.4 376.9,132.6 377.0,131.5 377.0,130.1 377.1,131.6 377.1,131.5 377.2,132.2 377.2,131.9 377.3,129.3 377.3,129.7 377.4,131.7 377.4,131.5 377.5,130.8 377.5,129.4 377.6,131.5 377.6,130.2 377.7,132.7 377.7,131.5 377.8,129.4 377.8,128.8 377.9,131.3 377.9,130.8 378.0,128.8 378.0,130.2 378.1,130.4 378.1,129.0 378.2,129.4 378.2,128.2 378.3,128.5 378.4,130.1 378.4,129.5 378.5,129.3 378.5,130.9 378.6,130.3 378.6,127.8 378.7,130.9 378.7,127.6 378.8,128.4 378.8,128.9 378.9,128.0 378.9,128.0 379.0,127.0 379.0,129.0 379.1,128.7 379.1,128.7 379.2,126.0 379.2,127.2 379.3,129.5 379.3,128.7 379.4,129.2 379.4,128.2 379.5,128.0 379.5,125.4 379.6,130.5 379.6,126.9 379.7,127.6 379.7,129.0 379.8,128.3 379.8,128.7 379.9,127.9 379.9,126.7 380.0,129.4 380.0,126.1 380.1,127.5 380.1,125.1 380.2,125.2 380.2,123.3 380.3,121.8 380.3,119.2 380.4,116.7 380.4,113.7 380.5,110.6 380.5,108.3 380.6,107.0 380.6,107.3 380.7,108.8 380.7,111.2 380.8,114.6 380.8,117.5 380.9,119.2 380.9,121.7 381.0,125.0 381.0,124.5 381.1,125.4 381.1,126.2 381.2,126.9 381.2,127.2 381.3,128.6 381.3,128.2 381.4,126.6 381.4,127.3 381.5,125.0 381.5,127.7 381.6,130.2 381.6,127.5 381.7,126.6 381.7,126.4 381.8,126.7 381.9,127.7 381.9,124.7 382.0,127.3 382.0,125.5 382.1,126.7 382.1,127.8 382.2,124.4 382.2,129.3 382.3,127.1 382.3,125.5 382.4,126.4 382.4,125.0 382.5,126.0 382.5,126.4 382.6,123.1 382.6,126.1 382.7,126.0 382.7,127.2 382.8,126.7 382.8,125.0 382.9,125.1 382.9,125.8 383.0,126.7 383.0,125.0 383.1,128.0 383.1,126.3 383.2,126.3 383.2,127.1 383.3,125.8 383.3,126.9 383.4,127.1 383.4,123.9 383.5,125.3 383.5,124.7 383.6,126.3 383.6,125.1 383.7,125.4 383.7,124.9 383.8,123.5 383.8,126.8 383.9,126.2 383.9,126.7 384.0,131.1 384.0,128.4 384.1,126.6 384.1,125.8 384.2,127.3 384.2,125.1 384.3,124.9 384.3,127.0 384.4,124.6 384.4,124.1 384.5,125.7 384.5,127.4 384.6,124.2 384.6,126.2 384.7,126.4 384.7,125.6 384.8,126.3 384.8,124.1 384.9,124.4 384.9,123.7 385.0,124.4 385.0,126.0 385.1,125.0 385.1,123.6 385.2,125.1 385.3,120.6 385.3,124.6 385.4,124.9 385.4,122.5 385.5,122.9 385.5,123.8 385.6,124.0 385.6,123.0 385.7,122.4 385.7,122.4 385.8,123.7 385.8,122.7 385.9,122.1 385.9,122.2 386.0,127.2 386.0,124.3 386.1,124.2 386.1,123.5 386.2,123.0 386.2,122.1 386.3,122.5 386.3,123.5 386.4,123.4 386.4,121.2 386.5,124.4 386.5,123.3 386.6,121.7 386.6,123.4 386.7,126.5 386.7,123.5 386.8,124.6 386.8,124.3 386.9,122.9 386.9,123.7 387.0,124.7 387.0,123.3 387.1,123.9 387.1,124.4 387.2,124.2 387.2,124.4 387.3,125.2 387.3,125.4 387.4,124.8 387.4,126.1 387.5,126.5 387.5,123.3 387.6,125.3 387.6,125.1 387.7,125.2 387.7,125.1 387.8,125.1 387.8,125.1 387.9,126.2 387.9,124.0 388.0,126.1 388.0,123.9 388.1,127.7 388.1,126.5 388.2,123.9 388.2,125.3 388.3,126.0 388.3,124.6 388.4,126.4 388.4,124.9 388.5,127.8 388.5,125.5 388.6,125.7 388.7,124.1 388.7,123.7 388.8,125.8 388.8,122.6 388.9,125.4 388.9,127.3 389.0,127.7 389.0,122.6 389.1,124.7 389.1,125.4 389.2,125.6 389.2,126.0 389.3,122.9 389.3,124.8 389.4,122.5 389.4,125.1 389.5,127.9 389.5,123.9 389.6,125.5 389.6,125.5 389.7,123.3 389.7,125.7 389.8,124.0 389.8,125.6 389.9,126.6 389.9,125.1 390.0,126.6 390.0,124.4 390.1,124.8 390.1,126.0 390.2,125.5 390.2,125.6 390.3,126.8 390.3,125.4 390.4,126.9 390.4,125.9 390.5,127.9 390.5,126.7 390.6,126.4 390.6,127.9 390.7,127.5 390.7,127.7 390.8,126.2 390.8,128.1 390.9,126.7 390.9,125.3 391.0,126.9 391.0,129.4 391.1,127.2 391.1,126.1 391.2,127.8 391.2,126.1 391.3,126.8 391.3,127.0 391.4,127.9 391.4,128.3 391.5,128.0 391.5,127.6 391.6,127.0 391.6,127.2 391.7,128.1 391.7,127.7 391.8,127.3 391.8,129.8 391.9,128.8 391.9,128.8 392.0,128.1 392.0,128.2 392.1,128.2 392.2,128.9 392.2,127.0 392.3,127.5 392.3,129.9 392.4,127.8 392.4,129.2 392.5,125.7 392.5,128.3 392.6,128.2 392.6,127.5 392.7,127.8 392.7,127.5 392.8,125.5 392.8,127.0 392.9,126.1 392.9,125.6 393.0,127.9 393.0,124.6 393.1,125.4 393.1,124.8 393.2,126.5 393.2,124.2 393.3,124.2 393.3,124.5 393.4,121.0 393.4,121.8 393.5,121.6 393.5,119.9 393.6,117.9 393.6,116.0 393.7,114.5 393.7,111.8 393.8,109.1 393.8,107.8 393.9,104.0 393.9,100.5 394.0,95.9 394.0,90.9 394.1,86.5 394.1,82.1 394.2,76.7 394.2,71.1 394.3,66.1 394.3,60.9 394.4,55.9 394.4,51.5 394.5,47.3 394.5,44.0 394.6,41.4 394.6,39.7 394.7,39.0 394.7,39.3 394.8,40.6 394.8,42.8 394.9,45.9 394.9,49.6 395.0,54.0 395.0,59.1 395.1,64.2 395.1,69.1 395.2,74.9 395.2,79.7 395.3,84.7 395.3,90.4 395.4,94.9 395.4,99.1 395.5,103.5 395.6,107.2 395.6,110.1 395.7,112.1 395.7,115.6 395.8,117.7 395.8,119.9 395.9,122.4 395.9,121.4 396.0,126.2 396.0,125.8 396.1,125.7 396.1,128.5 396.2,127.3 396.2,127.3 396.3,130.2 396.3,129.6 396.4,131.6 396.4,130.3 396.5,131.3 396.5,131.5 396.6,130.6 396.6,132.0 396.7,131.3 396.7,132.5 396.8,135.0 396.8,133.6 396.9,133.7 396.9,136.3 397.0,133.4 397.0,135.2 397.1,135.1 397.1,136.9 397.2,136.1 397.2,136.1 397.3,137.1 397.3,136.9 397.4,139.7 397.4,135.9 397.5,139.0 397.5,140.4 397.6,139.2 397.6,139.2 397.7,137.7 397.7,139.5 397.8,138.2 397.8,139.7 397.9,136.2 397.9,138.1 398.0,136.6 398.0,140.0 398.1,138.2 398.1,140.1 398.2,138.3 398.2,138.3 398.3,140.9 398.3,140.4 398.4,140.5 398.4,140.9 398.5,140.1 398.5,140.4 398.6,141.0 398.6,139.3 398.7,138.9 398.7,141.1 398.8,140.3 398.8,139.8 398.9,140.2 398.9,140.8 399.0,139.2 399.1,139.3 399.1,139.6 399.2,140.7 399.2,138.3 399.3,138.7 399.3,141.2 399.4,141.0 399.4,139.6 399.5,141.9 399.5,140.7 399.6,141.1 399.6,142.1 399.7,141.6 399.7,143.2 399.8,142.1 399.8,143.7 399.9,139.0 399.9,139.9 400.0,140.3 400.0,141.3 400.1,140.6 400.1,140.3 400.2,140.6 400.2,140.7 400.3,142.8 400.3,141.3 400.4,142.4 400.4,143.1 400.5,143.0 400.5,141.3 400.6,140.6 400.6,143.2 400.7,139.7 400.7,140.0 400.8,142.1 400.8,142.1 400.9,141.7 400.9,140.5 401.0,142.0 401.0,142.8 401.1,141.2 401.1,143.8 401.2,141.4 401.2,140.3 401.3,141.2 401.3,140.7 401.4,141.1 401.4,140.9 401.5,141.6 401.5,142.7 401.6,142.1 401.6,142.0 401.7,140.6 401.7,140.3 401.8,141.7 401.8,143.1 401.9,143.2 401.9,142.7 402.0,141.1 402.0,142.3 402.1,142.8 402.1,143.7 402.2,142.0 402.2,142.7 402.3,143.2 402.3,143.1 402.4,141.5 402.5,143.6 402.5,141.6 402.6,142.2 402.6,143.6 402.7,142.7 402.7,143.9 402.8,144.7 402.8,144.2 402.9,144.9 402.9,143.5 403.0,144.1 403.0,143.5 403.1,143.3 403.1,147.6 403.2,144.0 403.2,146.3 403.3,144.3 403.3,145.5 403.4,144.5 403.4,143.2 403.5,146.6 403.5,144.6 403.6,145.0 403.6,147.0 403.7,144.3 403.7,145.1 403.8,145.7 403.8,146.0 403.9,141.8 403.9,145.8 404.0,147.3 404.0,146.4 404.1,145.9 404.1,145.9 404.2,145.6 404.2,146.6 404.3,144.9 404.3,146.0 404.4,147.0 404.4,146.4 404.5,145.9 404.5,144.5 404.6,144.9 404.6,145.7 404.7,145.3 404.7,145.0 404.8,143.0 404.8,145.8 404.9,144.6 404.9,144.2 405.0,146.0 405.0,144.7 405.1,144.7 405.1,145.3 405.2,144.1 405.2,143.6 405.3,143.5 405.3,144.9 405.4,144.5 405.4,142.2 405.5,145.8 405.5,144.5 405.6,143.8 405.6,144.6 405.7,144.1 405.7,144.7 405.8,144.2 405.9,143.7 405.9,145.0 406.0,144.4 406.0,144.0 406.1,143.1 406.1,141.1 406.2,139.1 406.2,135.4 406.3,132.0 406.3,129.0 406.4,126.9 406.4,126.3 406.5,127.5 406.5,130.3 406.6,133.7 406.6,136.7 406.7,140.8 406.7,142.4 406.8,144.4 406.8,146.0 406.9,147.3 406.9,146.7 407.0,147.8 407.0,146.5 407.1,146.5 407.1,149.2 407.2,148.4 407.2,148.3 407.3,149.2 407.3,149.2 407.4,148.0 407.4,148.3 407.5,149.9 407.5,148.8 407.6,147.7 407.6,149.6 407.7,149.4 407.7,146.8 407.8,147.2 407.8,150.3 407.9,150.1 407.9,148.4 408.0,150.1 408.0,149.2 408.1,149.5 408.1,148.6 408.2,151.8 408.2,151.6 408.3,150.7 408.3,148.5 408.4,149.8 408.4,151.5 408.5,149.3 408.5,149.2 408.6,150.2 408.6,150.4 408.7,149.7 408.7,149.0 408.8,150.1 408.8,149.8 408.9,150.4 408.9,150.8 409.0,151.4 409.0,150.2 409.1,150.8 409.1,150.8 409.2,149.6 409.2,150.1 409.3,149.7 409.4,152.2 409.4,150.0 409.5,151.2 409.5,151.4 409.6,151.4 409.6,149.3 409.7,149.7 409.7,151.2 409.8,151.6 409.8,150.4 409.9,150.9 409.9,148.7 410.0,151.8 410.0,152.2 410.1,150.6 410.1,150.3 410.2,150.1 410.2,149.5 410.3,148.1 410.3,150.5 410.4,150.7 410.4,151.9 410.5,149.9 410.5,149.2 410.6,150.3 410.6,148.8 410.7,150.0 410.7,148.4 410.8,149.6 410.8,151.0 410.9,150.5 410.9,151.4 411.0,151.5 411.0,149.5 411.1,148.8 411.1,147.7 411.2,149.6 411.2,149.8 411.3,150.6 411.3,148.4 411.4,148.9 411.4,149.7 411.5,148.3 411.5,148.1 411.6,149.4 411.6,146.3 411.7,145.1 411.7,142.9 411.8,139.5 411.8,134.4 411.9,129.5 411.9,124.2 412.0,119.4 412.0,115.6 412.1,113.9 412.1,114.8 412.2,118.0 412.2,122.9 412.3,127.8 412.3,133.3 412.4,138.2 412.4,142.2 412.5,145.5 412.5,147.7 412.6,148.4 412.6,150.4 412.7,149.4 412.8,151.3 412.8,152.0 412.9,150.2 412.9,151.8 413.0,151.3 413.0,152.4 413.1,154.4 413.1,151.7 413.2,153.7 413.2,151.4 413.3,154.1 413.3,154.5 413.4,152.5 413.4,152.4 413.5,152.8 413.5,154.2 413.6,152.2 413.6,154.6 413.7,153.6 413.7,154.0 413.8,153.6 413.8,152.4 413.9,153.9 413.9,152.7 414.0,152.6 414.0,155.0 414.1,154.5 414.1,153.7 414.2,153.9 414.2,153.0 414.3,155.3 414.3,152.6 414.4,152.6 414.4,153.5 414.5,154.7 414.5,153.4 414.6,153.9 414.6,152.8 414.7,153.4 414.7,152.6 414.8,153.8 414.8,151.9 414.9,155.6 414.9,154.3 415.0,152.8 415.0,154.7 415.1,152.5 415.1,154.4 415.2,153.1 415.2,154.0 415.3,153.5 415.3,152.8 415.4,153.0 415.4,153.2 415.5,150.7 415.5,152.6 415.6,153.2 415.6,151.3 415.7,151.0 415.7,150.2 415.8,149.0 415.8,149.9 415.9,147.1 415.9,145.2 416.0,143.3 416.0,140.1 416.1,137.6 416.1,132.5 416.2,127.3 416.3,123.1 416.3,118.1 416.4,113.7 416.4,110.3 416.5,108.2 416.5,107.5 416.6,108.5 416.6,111.0 416.7,114.8 416.7,119.1 416.8,123.6 416.8,128.5 416.9,133.2 416.9,138.4 417.0,141.1 417.0,143.8 417.1,146.5 417.1,148.2 417.2,147.4 417.2,150.7 417.3,152.0 417.3,151.5 417.4,152.4 417.4,152.7 417.5,152.7 417.5,152.0 417.6,152.7 417.6,154.1 417.7,153.2 417.7,152.8 417.8,153.8 417.8,152.3 417.9,152.8 417.9,154.6 418.0,153.4 418.0,151.9 418.1,152.4 418.1,154.0 418.2,153.2 418.2,154.8 418.3,155.6 418.3,153.8 418.4,154.2 418.4,154.0 418.5,154.6 418.5,154.4 418.6,155.2 418.6,154.4 418.7,154.1 418.7,155.0 418.8,154.2 418.8,156.8 418.9,155.9 418.9,153.8 419.0,153.5 419.0,155.0 419.1,155.3 419.1,156.4 419.2,154.9 419.2,154.5 419.3,156.6 419.3,154.7 419.4,154.7 419.4,154.7 419.5,156.2 419.5,154.6 419.6,156.5 419.7,153.6 419.7,154.8 419.8,156.0 419.8,153.6 419.9,153.7 419.9,155.4 420.0,152.7 420.0,155.7 420.1,154.4 420.1,153.6 420.2,156.9 420.2,153.8 420.3,154.8 420.3,154.7 420.4,155.8 420.4,154.5 420.5,155.8 420.5,155.7 420.6,155.3 420.6,156.1 420.7,153.5 420.7,156.3 420.8,155.8 420.8,155.4 420.9,155.2 420.9,154.5 421.0,154.6 421.0,155.7 421.1,155.8 421.1,155.5 421.2,154.9 421.2,155.1 421.3,156.2 421.3,157.6 421.4,154.1 421.4,155.1 421.5,155.6 421.5,155.4 421.6,155.6 421.6,155.4 421.7,154.4 421.7,153.5 421.8,152.6 421.8,151.5 421.9,150.0 421.9,148.6 422.0,147.6 422.0,146.8 422.1,146.4 422.1,146.6 422.2,147.2 422.2,148.3 422.3,149.7 422.3,150.7 422.4,152.3 422.4,153.1 422.5,154.5 422.5,154.8 422.6,156.0 422.6,157.2 422.7,156.6 422.7,157.0 422.8,156.4 422.8,157.4 422.9,157.4 422.9,156.4 423.0,156.1 423.1,156.5 423.1,156.3 423.2,156.8 423.2,156.5 423.3,156.4 423.3,156.9 423.4,157.2 423.4,157.1 423.5,155.0 423.5,157.2 423.6,157.4 423.6,157.5 423.7,157.2 423.7,156.9 423.8,158.2 423.8,158.9 423.9,156.8 423.9,158.5 424.0,156.8 424.0,156.9 424.1,156.0 424.1,155.5 424.2,156.7 424.2,157.6 424.3,158.1 424.3,157.8 424.4,157.1 424.4,159.0 424.5,157.1 424.5,157.2 424.6,156.6 424.6,157.5 424.7,157.2 424.7,158.0 424.8,157.8 424.8,159.0 424.9,157.3 424.9,156.1 425.0,157.4 425.0,157.3 425.1,158.6 425.1,156.4 425.2,158.5 425.2,157.1 425.3,157.8 425.3,158.9 425.4,157.1 425.4,158.1 425.5,158.0 425.5,157.8 425.6,158.3 425.6,158.7 425.7,158.0 425.7,158.8 425.8,158.5 425.8,159.2 425.9,160.0 425.9,159.2 426.0,159.1 426.0,158.7 426.1,157.6 426.1,160.3 426.2,158.6 426.2,160.8 426.3,159.7 426.3,159.2 426.4,160.8 426.4,160.4 426.5,158.6 426.6,158.7 426.6,158.8 426.7,159.4 426.7,156.8 426.8,158.7 426.8,159.1 426.9,157.0 426.9,157.5 427.0,157.7 427.0,156.1 427.1,155.8 427.1,154.4 427.2,153.2 427.2,151.8 427.3,149.5 427.3,147.7 427.4,146.0 427.4,144.5 427.5,143.6 427.5,143.5 427.6,144.1 427.6,145.3 427.7,147.0 427.7,149.2 427.8,150.9 427.8,152.6 427.9,154.2 427.9,155.2 428.0,156.8 428.0,157.3 428.1,157.4 428.1,159.0 428.2,157.8 428.2,158.0 428.3,158.8 428.3,158.0 428.4,158.9 428.4,160.4 428.5,158.7 428.5,159.4 428.6,159.3 428.6,159.6 428.7,158.5 428.7,159.2 428.8,160.3 428.8,159.2 428.9,159.0 428.9,160.2 429.0,160.0 429.0,159.9 429.1,160.1 429.1,159.2 429.2,158.6 429.2,157.8 429.3,158.4 429.3,158.5 429.4,158.4 429.4,158.2 429.5,159.8 429.5,158.8 429.6,159.1 429.6,159.6 429.7,159.9 429.7,159.9 429.8,159.7 429.8,160.6 429.9,159.0 430.0,159.5 430.0,159.4 430.1,159.2 430.1,158.9 430.2,160.1 430.2,159.6 430.3,161.0 430.3,161.5 430.4,161.3 430.4,158.1 430.5,161.1 430.5,159.1 430.6,158.1 430.6,159.8 430.7,157.9 430.7,157.7 430.8,158.5 430.8,157.2 430.9,158.7 430.9,159.8 431.0,158.6 431.0,159.4 431.1,160.0 431.1,159.9 431.2,156.6 431.2,158.8 431.3,158.0 431.3,157.9 431.4,156.3 431.4,155.0 431.5,152.6 431.5,149.3 431.6,144.3 431.6,137.5 431.7,129.5 431.7,120.9 431.8,113.1 431.8,106.7 431.9,103.3 431.9,103.6 432.0,107.7 432.0,114.4 432.1,122.9 432.1,131.0 432.2,138.0 432.2,144.6 432.3,149.0 432.3,153.3 432.4,156.3 432.4,157.3 432.5,158.2 432.5,157.5 432.6,157.3 432.6,159.8 432.7,159.7 432.7,159.7 432.8,160.0 432.8,160.9 432.9,159.9 432.9,159.7 433.0,159.8 433.0,161.3 433.1,160.4 433.1,161.9 433.2,159.6 433.2,161.4 433.3,160.8 433.3,161.0 433.4,161.2 433.5,161.6 433.5,162.3 433.6,159.2 433.6,160.5 433.7,160.5 433.7,158.9 433.8,160.8 433.8,160.2 433.9,160.7 433.9,159.7 434.0,160.3 434.0,160.4 434.1,160.9 434.1,160.4 434.2,159.6 434.2,162.4 434.3,160.7 434.3,161.0 434.4,160.8 434.4,162.3 434.5,159.9 434.5,161.3 434.6,160.8 434.6,161.1 434.7,162.1 434.7,161.1 434.8,162.3 434.8,161.6 434.9,161.0 434.9,160.8 435.0,160.8 435.0,161.0 435.1,159.0 435.1,160.6 435.2,162.0 435.2,161.5 435.3,161.5 435.3,161.1 435.4,161.4 435.4,161.5 435.5,159.5 435.5,160.5 435.6,160.4 435.6,159.9 435.7,159.2 435.7,157.4 435.8,156.7 435.8,154.9 435.9,154.3 435.9,151.3 436.0,148.9 436.0,146.8 436.1,145.0 436.1,143.7 436.2,143.1 436.2,143.4 436.3,144.6 436.3,146.3 436.4,148.3 436.4,150.4 436.5,152.6 436.5,155.1 436.6,155.4 436.6,158.3 436.7,158.9 436.7,160.4 436.8,159.3 436.9,160.2 436.9,160.1 437.0,160.9 437.0,161.2 437.1,161.1 437.1,162.8 437.2,160.5 437.2,160.6 437.3,161.7 437.3,161.4 437.4,161.2 437.4,160.1 437.5,161.1 437.5,161.4 437.6,161.9 437.6,162.8 437.7,162.0 437.7,161.4 437.8,161.7 437.8,161.4 437.9,160.9 437.9,161.1 438.0,161.3 438.0,161.0 438.1,161.5 438.1,161.7 438.2,161.3 438.2,163.3 438.3,160.7 438.3,163.0 438.4,161.2 438.4,162.0 438.5,161.2 438.5,162.2 438.6,163.1 438.6,161.4 438.7,162.2 438.7,162.4 438.8,162.5 438.8,161.7 438.9,161.9 438.9,162.5 439.0,164.1 439.0,163.1 439.1,162.7 439.1,161.3 439.2,162.5 439.2,163.0 439.3,161.9 439.3,163.0 439.4,163.0 439.4,162.8 439.5,164.3 439.5,162.1 439.6,162.6 439.6,163.2 439.7,164.0 439.7,162.8 439.8,161.8 439.8,163.6 439.9,163.9 439.9,162.7 440.0,164.4 440.0,165.0 440.1,163.5 440.1,163.7 440.2,163.4 440.3,163.6 440.3,162.9 440.4,163.4 440.4,163.8 440.5,163.7 440.5,162.8 440.6,162.5 440.6,162.6 440.7,162.8 440.7,166.1 440.8,164.2 440.8,163.7 440.9,163.2 440.9,164.6 441.0,162.3 441.0,163.1 441.1,163.6 441.1,163.0 441.2,163.2 441.2,163.2 441.3,162.4 441.3,162.6 441.4,162.8 441.4,162.2 441.5,161.7 441.5,161.6 441.6,160.7 441.6,160.9 441.7,160.0 441.7,159.9 441.8,159.7 441.8,159.4 441.9,159.2 441.9,159.0 442.0,159.0 442.0,159.0 442.1,159.0 442.1,159.3 442.2,159.4 442.2,159.7 442.3,160.0 442.3,160.3 442.4,160.6 442.4,160.6 442.5,160.9 442.5,161.6 442.6,160.9 442.6,162.2 442.7,161.4 442.7,161.7 442.8,161.2 442.8,161.7 442.9,161.3 442.9,162.0 443.0,161.3 443.0,161.7 443.1,160.4 443.1,162.5 443.2,161.0 443.2,161.6 443.3,161.9 443.3,162.5 443.4,161.7 443.4,163.3 443.5,163.2 443.5,161.5 443.6,163.4 443.6,160.9 443.7,162.4 443.8,162.0 443.8,162.2 443.9,162.0 443.9,162.6 444.0,162.7 444.0,162.6 444.1,161.6 444.1,161.6 444.2,161.5 444.2,162.3 444.3,162.8 444.3,164.1 444.4,162.2 444.4,162.1 444.5,163.2 444.5,162.2 444.6,161.8 444.6,162.8 444.7,162.0 444.7,162.7 444.8,164.5 444.8,163.4 444.9,163.4 444.9,162.6 445.0,163.8 445.0,163.5 445.1,164.0 445.1,163.2 445.2,163.2 445.2,162.4 445.3,162.6 445.3,163.2 445.4,163.1 445.4,163.3 445.5,163.3 445.5,162.1 445.6,165.5 445.6,163.6 445.7,163.2 445.7,162.5 445.8,164.4 445.8,163.2 445.9,162.8 445.9,163.9 446.0,165.1 446.0,163.8 446.1,164.5 446.1,163.0 446.2,164.2 446.2,162.2 446.3,163.4 446.3,164.0 446.4,163.8 446.4,164.0 446.5,163.1 446.5,162.4 446.6,163.2 446.6,162.5 446.7,163.1 446.7,162.4 446.8,161.5 446.8,162.3 446.9,161.4 446.9,161.2 447.0,161.3 447.0,160.9 447.1,160.5 447.2,160.2 447.2,160.1 447.3,160.0 447.3,160.0 447.4,160.0 447.4,160.1 447.5,160.3 447.5,160.5 447.6,160.9 447.6,160.9 447.7,161.5 447.7,161.9 447.8,161.8 447.8,162.1 447.9,163.2 447.9,162.5 448.0,163.4 448.0,163.3 448.1,162.6 448.1,163.6 448.2,162.9 448.2,163.4 448.3,161.9 448.3,163.3 448.4,164.1 448.4,164.2 448.5,164.1 448.5,163.3 448.6,163.4 448.6,162.7 448.7,163.4 448.7,163.5 448.8,163.4 448.8,163.9 448.9,163.6 448.9,163.3 449.0,163.3 449.0,164.5 449.1,165.7 449.1,164.9 449.2,164.1 449.2,166.5 449.3,164.8 449.3,164.1 449.4,165.0 449.4,165.5 449.5,163.1 449.5,163.4 449.6,164.9 449.6,163.5 449.7,163.5 449.7,165.6 449.8,162.3 449.8,165.4 449.9,164.8 449.9,165.5 450.0,164.4 450.0,165.6 450.1,164.4 450.1,163.5 450.2,164.2 450.2,164.5 450.3,162.9 450.3,165.0 450.4,163.3 450.4,164.4 450.5,163.9 450.6,164.0 450.6,163.9 450.7,164.0 450.7,164.6 450.8,164.4 450.8,163.5 450.9,164.0 450.9,164.9 451.0,164.5 451.0,164.5 451.1,163.9 451.1,163.7 451.2,163.8 451.2,164.4 451.3,163.9 451.3,165.1 451.4,166.4 451.4,164.0 451.5,165.3 451.5,164.8 451.6,165.0 451.6,163.5 451.7,165.0 451.7,163.8 451.8,164.5 451.8,165.1 451.9,165.4 451.9,163.7 452.0,163.8 452.0,163.5 452.1,162.7 452.1,164.0 452.2,164.0 452.2,164.4 452.3,164.2 452.3,164.6 452.4,165.1 452.4,162.7 452.5,165.9 452.5,164.2 452.6,164.0 452.6,164.3 452.7,165.2 452.7,164.6 452.8,164.8 452.8,165.3 452.9,164.5 452.9,164.7 453.0,164.8 453.0,163.8 453.1,165.0 453.1,163.9 453.2,164.5 453.2,163.7 453.3,163.7 453.3,163.5 453.4,163.8 453.4,163.4 453.5,163.1 453.5,162.3 453.6,161.6 453.6,161.1 453.7,161.0 453.7,160.3 453.8,160.0 453.8,159.4 453.9,158.5 453.9,157.8 454.0,157.3 454.1,156.7 454.1,156.1 454.2,155.7 454.2,155.4 454.3,155.2 454.3,155.2 454.4,155.3 454.4,155.5 454.5,155.8 454.5,156.2 454.6,156.8 454.6,157.4 454.7,157.9 454.7,158.6 454.8,158.9 454.8,160.1 454.9,160.5 454.9,160.8 455.0,161.2 455.0,161.4 455.1,162.1 455.1,161.6 455.2,163.1 455.2,163.1 455.3,163.0 455.3,163.8 455.4,164.0 455.4,164.3 455.5,164.6 455.5,165.0 455.6,164.8 455.6,165.6 455.7,164.3 455.7,165.9 455.8,163.2 455.8,163.5 455.9,164.1 455.9,165.2 456.0,165.5 456.0,164.1 456.1,165.0 456.1,164.7 456.2,165.8 456.2,164.4 456.3,166.0 456.3,165.2 456.4,166.8 456.4,165.9 456.5,165.0 456.5,165.8 456.6,165.8 456.6,164.7 456.7,165.5 456.7,164.4 456.8,167.4 456.8,164.9 456.9,164.9 456.9,166.6 457.0,166.4 457.0,164.6 457.1,166.2 457.1,165.8 457.2,164.8 457.2,165.6 457.3,164.9 457.3,166.0 457.4,165.0 457.5,164.3 457.5,165.0 457.6,167.0 457.6,164.7 457.7,165.1 457.7,165.9 457.8,164.0 457.8,166.6 457.9,163.6 457.9,165.7 458.0,163.9 458.0,165.2 458.1,166.3 458.1,165.1 458.2,164.9 458.2,164.7 458.3,164.3 458.3,165.9 458.4,164.8 458.4,164.6 458.5,165.5 458.5,166.0 458.6,166.1 458.6,164.7 458.7,164.7 458.7,166.0 458.8,166.5 458.8,164.4 458.9,166.7 458.9,165.3 459.0,166.1 459.0,166.9 459.1,165.4 459.1,165.7 459.2,164.3 459.2,163.7 459.3,165.7 459.3,164.7 459.4,164.7 459.4,166.0 459.5,166.2 459.5,164.2 459.6,165.8 459.6,165.5 459.7,165.7 459.7,165.5 459.8,165.9 459.8,164.8 459.9,164.3 459.9,165.7 460.0,166.5 460.0,165.3 460.1,166.5 460.1,165.8 460.2,164.3 460.2,163.4 460.3,165.0 460.3,166.1 460.4,164.6 460.4,167.1 460.5,165.8 460.5,164.0 460.6,164.6 460.6,166.3 460.7,166.5 460.7,164.4 460.8,165.1 460.8,165.5 460.9,164.7 461.0,165.5 461.0,166.5 461.1,164.3 461.1,165.4 461.2,165.7 461.2,165.9 461.3,164.6 461.3,165.5 461.4,164.3 461.4,165.0 461.5,163.9 461.5,165.1 461.6,165.3 461.6,166.4 461.7,165.8 461.7,164.3 461.8,162.4 461.8,166.0 461.9,165.9 461.9,164.8 462.0,164.8 462.0,165.8 462.1,165.2 462.1,166.7 462.2,165.7 462.2,164.7 462.3,164.2 462.3,165.7 462.4,165.9 462.4,165.3 462.5,164.8 462.5,165.4 462.6,166.4 462.6,165.5 462.7,165.1 462.7,166.3 462.8,166.8 462.8,165.4 462.9,165.5 462.9,165.0 463.0,165.6 463.0,166.0 463.1,165.8 463.1,166.0 463.2,165.8 463.2,165.4 463.3,165.2 463.3,164.1 463.4,165.2 463.4,164.3 463.5,164.2 463.5,163.0 463.6,163.2 463.6,163.0 463.7,162.2 463.7,162.0 463.8,161.6 463.8,160.6 463.9,160.3 463.9,159.6 464.0,159.1 464.0,158.6 464.1,158.2 464.1,157.8 464.2,157.3 464.2,156.9 464.3,156.7 464.4,156.5 464.4,156.4 464.5,156.5 464.5,156.7 464.6,156.9 464.6,157.3 464.7,157.7 464.7,158.2 464.8,158.9 464.8,159.4 464.9,160.1 464.9,160.3 465.0,161.0 465.0,161.8 465.1,162.6 465.1,162.7 465.2,162.7 465.2,163.5 465.3,163.9 465.3,163.7 465.4,164.9 465.4,164.4 465.5,164.3 465.5,165.2 465.6,165.3 465.6,164.7 465.7,164.9 465.7,165.0 465.8,164.7 465.8,164.6 465.9,165.4 465.9,165.1 466.0,164.3 466.0,163.7 466.1,163.4 466.1,165.1 466.2,163.5 466.2,163.7 466.3,164.3 466.3,163.8 466.4,163.5 466.4,162.8 466.5,165.0 466.5,163.7 466.6,164.3 466.6,164.3 466.7,163.3 466.7,163.6 466.8,165.0 466.8,164.5 466.9,164.1 466.9,165.4 467.0,163.7 467.0,164.5 467.1,164.4 467.1,164.3 467.2,163.3 467.2,164.6 467.3,164.8 467.3,163.6 467.4,164.8 467.4,164.7 467.5,165.0 467.5,163.8 467.6,163.9 467.6,163.6 467.7,163.4 467.8,163.1 467.8,162.9 467.9,162.5 467.9,161.9 468.0,161.5 468.0,161.1 468.1,160.8 468.1,160.6 468.2,160.4 468.2,160.4 468.3,160.5 468.3,160.6 468.4,160.9 468.4,161.3 468.5,161.6 468.5,162.3 468.6,162.5 468.6,163.2 468.7,163.2 468.7,163.6 468.8,164.1 468.8,163.8 468.9,164.2 468.9,164.8 469.0,165.0 469.0,165.7 469.1,165.1 469.1,163.8 469.2,165.6 469.2,165.0 469.3,165.7 469.3,164.9 469.4,165.2 469.4,165.8 469.5,167.0 469.5,166.2 469.6,164.9 469.6,166.1 469.7,165.5 469.7,166.5 469.8,167.6 469.8,165.8 469.9,166.0 469.9,166.7 470.0,166.6 470.0,166.1 470.1,166.8 470.1,166.0 470.2,166.4 470.2,168.1 470.3,166.3 470.3,166.7 470.4,166.8 470.4,165.8 470.5,166.4 470.5,165.6 470.6,165.1 470.6,165.8 470.7,167.1 470.7,166.4 470.8,165.0 470.8,165.9 470.9,166.3 470.9,165.7 471.0,165.2 471.0,165.4 471.1,165.1 471.1,166.2 471.2,165.8 471.3,165.7 471.3,165.5 471.4,167.2 471.4,165.7 471.5,166.6 471.5,164.4 471.6,164.2 471.6,164.1 471.7,164.9 471.7,165.9 471.8,164.7 471.8,165.7 471.9,165.0 471.9,166.2 472.0,166.0 472.0,165.1 472.1,164.1 472.1,165.5 472.2,163.7 472.2,163.3 472.3,166.5 472.3,165.5 472.4,166.2 472.4,165.5 472.5,165.8 472.5,165.4 472.6,164.6 472.6,164.6 472.7,165.0 472.7,165.1 472.8,164.9 472.8,164.8 472.9,164.3 472.9,164.4 473.0,163.9 473.0,164.5 473.1,163.1 473.1,162.3 473.2,162.5 473.2,162.4 473.3,161.0 473.3,160.7 473.4,160.6 473.4,159.2 473.5,158.3 473.5,157.5 473.6,156.7 473.6,156.1 473.7,155.4 473.7,154.9 473.8,154.5 473.8,154.2 473.9,154.1 473.9,154.1 474.0,154.3 474.0,154.7 474.1,155.2 474.1,155.9 474.2,156.5 474.2,157.2 474.3,158.0 474.3,159.1 474.4,159.5 474.4,160.5 474.5,160.7 474.5,161.5 474.6,162.0 474.7,162.3 474.7,163.3 474.8,163.1 474.8,163.2 474.9,163.9 474.9,163.6 475.0,164.9 475.0,164.2 475.1,164.7 475.1,165.4 475.2,164.9 475.2,165.1 475.3,165.1 475.3,164.6 475.4,164.0 475.4,164.2 475.5,163.7 475.5,163.7 475.6,162.7 475.6,161.8 475.7,161.2 475.7,160.6 475.8,160.0 475.8,159.4 475.9,158.8 475.9,158.4 476.0,158.2 476.0,158.2 476.1,158.4 476.1,158.7 476.2,159.3 476.2,159.9 476.3,160.7 476.3,161.3 476.4,162.2 476.4,162.6 476.5,163.2 476.5,163.9 476.6,163.9 476.6,163.7 476.7,165.0 476.7,164.4 476.8,165.0 476.8,165.1 476.9,163.7 476.9,166.7 477.0,165.7 477.0,166.5 477.1,165.4 477.1,165.3 477.2,162.2 477.2,164.8 477.3,163.7 477.3,164.1 477.4,165.4 477.4,164.7 477.5,163.8 477.5,164.9 477.6,164.9 477.6,164.6 477.7,166.1 477.7,165.6 477.8,164.7 477.8,164.5 477.9,165.4 477.9,164.9 478.0,164.6 478.0,164.4 478.1,163.7 478.2,163.7 478.2,163.3 478.3,163.5 478.3,162.7 478.4,161.5 478.4,161.4 478.5,159.9 478.5,159.2 478.6,158.2 478.6,156.8 478.7,156.0 478.7,154.9 478.8,153.9 478.8,152.9 478.9,152.2 478.9,151.7 479.0,151.4 479.0,151.3 479.1,151.5 479.1,151.9 479.2,152.7 479.2,153.3 479.3,154.4 479.3,155.3 479.4,156.6 479.4,157.6 479.5,158.6 479.5,159.2 479.6,160.1 479.6,161.3 479.7,161.6 479.7,162.6 479.8,162.9 479.8,163.3 479.9,163.4 479.9,164.3 480.0,164.3 480.0,164.2 480.1,164.4 480.1,165.1 480.2,163.5 480.2,165.0 480.3,164.2 480.3,164.6 480.4,163.8 480.4,166.4 480.5,163.2 480.5,164.9 480.6,165.7 480.6,164.6 480.7,163.0 480.7,164.2 480.8,165.4 480.8,164.6 480.9,163.2 480.9,164.5 481.0,163.2 481.0,162.4 481.1,160.1 481.1,159.7 481.2,157.2 481.2,155.5 481.3,152.7 481.3,149.5 481.4,146.5 481.4,143.9 481.5,141.4 481.6,139.9 481.6,139.4 481.7,140.0 481.7,141.6 481.8,144.0 481.8,146.9 481.9,150.0 481.9,152.9 482.0,156.0 482.0,158.0 482.1,160.6 482.1,161.5 482.2,162.7 482.2,164.1 482.3,163.6 482.3,163.3 482.4,163.9 482.4,166.0 482.5,164.1 482.5,165.0 482.6,165.3 482.6,165.7 482.7,165.3 482.7,164.2 482.8,164.9 482.8,165.7 482.9,165.9 482.9,165.7 483.0,165.0 483.0,164.0 483.1,166.4 483.1,165.6 483.2,165.9 483.2,166.3 483.3,165.4 483.3,165.4 483.4,167.1 483.4,166.8 483.5,165.1 483.5,165.9 483.6,165.8 483.6,166.8 483.7,166.8 483.7,166.2 483.8,167.0 483.8,167.6 483.9,166.8 483.9,166.1 484.0,167.8 484.0,166.1 484.1,166.5 484.1,167.8 484.2,167.1 484.2,167.2 484.3,166.7 484.3,166.7 484.4,168.3 484.4,168.3 484.5,166.4 484.5,167.1 484.6,166.8 484.6,166.9 484.7,165.9 484.7,168.1 484.8,166.2 484.8,167.7 484.9,166.4 485.0,165.8 485.0,168.0 485.1,166.5 485.1,167.0 485.2,166.9 485.2,166.6 485.3,167.4 485.3,167.3 485.4,166.0 485.4,165.8 485.5,166.8 485.5,167.5 485.6,164.4 485.6,165.3 485.7,165.9 485.7,166.9 485.8,166.5 485.8,165.8 485.9,166.7 485.9,164.6 486.0,165.8 486.0,165.5 486.1,166.6 486.1,166.5 486.2,166.4 486.2,165.5 486.3,165.9 486.3,165.9 486.4,165.3 486.4,165.4 486.5,164.4 486.5,165.7 486.6,166.3 486.6,165.5 486.7,164.3 486.7,166.0 486.8,165.5 486.8,165.8 486.9,165.2 486.9,165.3 487.0,166.2 487.0,165.7 487.1,164.8 487.1,164.7 487.2,164.9 487.2,164.9 487.3,165.9 487.3,165.9 487.4,164.9 487.4,166.6 487.5,165.7 487.5,167.2 487.6,166.0 487.6,166.3 487.7,166.7 487.7,165.3 487.8,166.3 487.8,166.0 487.9,166.0 487.9,166.4 488.0,164.6 488.0,166.2 488.1,165.6 488.1,166.8 488.2,166.2 488.2,166.1 488.3,166.1 488.3,166.3 488.4,165.7 488.5,164.6 488.5,166.0 488.6,166.0 488.6,166.2 488.7,164.0 488.7,164.7 488.8,165.6 488.8,165.5 488.9,166.7 488.9,166.3 489.0,166.0 489.0,166.1 489.1,166.9 489.1,166.8 489.2,165.9 489.2,166.0 489.3,167.8 489.3,166.2 489.4,165.3 489.4,166.6 489.5,165.9 489.5,166.9 489.6,165.4 489.6,166.4 489.7,166.3 489.7,165.5 489.8,163.9 489.8,165.1 489.9,165.0 489.9,163.8 490.0,163.4 490.0,162.4 490.1,162.8 490.1,162.2 490.2,161.2 490.2,160.3 490.3,159.6 490.3,158.7 490.4,158.3 490.4,157.4 490.5,156.7 490.5,155.9 490.6,155.4 490.6,154.9 490.7,154.5 490.7,154.2 490.8,154.1 490.8,154.1 490.9,154.3 490.9,154.6 491.0,155.1 491.0,155.6 491.1,156.2 491.1,156.9 491.2,157.7 491.2,158.4 491.3,159.0 491.3,159.8 491.4,160.2 491.4,161.0 491.5,161.6 491.5,161.7 491.6,162.5 491.6,163.0 491.7,163.4 491.7,163.7 491.8,163.8 491.9,164.7 491.9,163.9 492.0,163.9 492.0,164.2 492.1,165.2 492.1,165.9 492.2,165.3 492.2,165.1 492.3,164.7 492.3,165.1 492.4,165.0 492.4,164.1 492.5,164.7 492.5,163.8 492.6,163.5 492.6,163.6 492.7,162.7 492.7,162.3 492.8,161.8 492.8,161.3 492.9,160.8 492.9,160.4 493.0,160.3 493.0,160.3 493.1,160.4 493.1,160.7 493.2,161.2 493.2,161.8 493.3,162.5 493.3,162.8 493.4,163.5 493.4,164.3 493.5,164.6 493.5,164.8 493.6,164.7 493.6,166.2 493.7,165.8 493.7,165.2 493.8,166.5 493.8,165.8 493.9,168.5 493.9,165.9 494.0,167.0 494.0,168.4 494.1,166.5 494.1,166.3 494.2,166.3 494.2,166.3 494.3,167.2 494.3,167.8 494.4,167.6 494.4,167.3 494.5,167.0 494.5,167.7 494.6,167.3 494.6,166.7 494.7,167.1 494.7,165.6 494.8,165.7 494.8,168.3 494.9,167.9 494.9,168.5 495.0,168.4 495.0,167.0 495.1,168.2 495.1,168.2 495.2,167.6 495.2,166.7 495.3,167.6 495.4,167.6 495.4,166.6 495.5,166.9 495.5,166.9 495.6,166.5 495.6,168.0 495.7,167.0 495.7,167.6 495.8,166.3 495.8,166.4 495.9,167.9 495.9,166.0 496.0,167.9 496.0,166.1 496.1,166.8 496.1,167.6 496.2,167.8 496.2,167.1 496.3,166.9 496.3,167.4 496.4,166.4 496.4,167.9 496.5,166.8 496.5,166.7 496.6,168.2 496.6,166.5 496.7,167.7 496.7,168.6 496.8,167.2 496.8,166.9 496.9,166.0 496.9,167.1 497.0,165.6 497.0,165.6 497.1,165.9 497.1,165.8 497.2,166.6 497.2,167.3 497.3,166.4 497.3,166.2 497.4,166.8 497.4,167.1 497.5,167.9 497.5,166.5 497.6,166.7 497.6,167.6 497.7,166.7 497.7,166.2 497.8,166.5 497.8,165.9 497.9,165.7 497.9,166.3 498.0,165.5 498.0,164.9 498.1,164.4 498.1,163.9 498.2,164.2 498.2,163.4 498.3,162.8 498.3,162.3 498.4,161.8 498.4,161.6 498.5,161.2 498.5,160.9 498.6,160.6 498.6,160.5 498.7,160.4 498.8,160.5 498.8,160.6 498.9,160.9 498.9,161.2 499.0,161.5 499.0,162.1 499.1,162.4 499.1,162.9 499.2,163.2 499.2,163.7 499.3,164.2 499.3,164.8 499.4,165.0 499.4,165.4 499.5,165.4 499.5,166.0 499.6,165.7 499.6,167.2 499.7,166.0 499.7,166.8 499.8,166.2 499.8,167.0 499.9,166.6 499.9,166.3 500.0,167.7 500.0,167.3 500.1,167.6 500.1,167.4 500.2,168.8 500.2,167.8 500.3,167.9 500.3,168.3 500.4,167.9 500.4,169.0 500.5,166.8 500.5,167.5 500.6,166.4 500.6,168.5 500.7,168.8 500.7,167.6 500.8,169.1 500.8,167.6 500.9,168.3 500.9,168.0 501.0,167.5 501.0,167.6 501.1,166.1 501.1,167.0 501.2,168.5 501.2,166.6 501.3,168.4 501.3,167.2 501.4,168.2 501.4,167.8 501.5,166.1 501.5,167.5 501.6,167.6 501.6,167.5 501.7,167.3 501.7,165.9 501.8,167.9 501.8,168.0 501.9,166.5 501.9,168.3 502.0,167.3 502.0,166.2 502.1,167.1 502.2,167.5 502.2,167.7 502.3,167.9 502.3,167.7 502.4,167.1 502.4,166.3 502.5,166.6 502.5,167.8 502.6,168.0 502.6,166.9 502.7,168.9 502.7,167.8 502.8,167.7 502.8,168.4 502.9,168.3 502.9,167.2 503.0,168.8 503.0,168.2 503.1,168.0 503.1,167.4 503.2,168.4 503.2,166.6 503.3,167.6 503.3,167.5 503.4,167.5 503.4,167.6 503.5,167.7 503.5,166.3 503.6,166.8 503.6,166.8 503.7,166.1 503.7,166.8 503.8,165.9 503.8,166.0 503.9,166.2 503.9,165.2 504.0,165.8 504.0,164.7 504.1,164.9 504.1,164.1 504.2,163.5 504.2,163.3 504.3,163.1 504.3,162.6 504.4,162.2 504.4,161.9 504.5,161.4 504.5,161.0 504.6,160.6 504.6,160.4 504.7,160.2 504.7,160.0 504.8,160.0 504.8,160.0 504.9,160.1 504.9,160.3 505.0,160.5 505.0,160.8 505.1,161.3 505.1,161.6 505.2,162.0 505.2,162.4 505.3,163.0 505.3,163.3 505.4,164.0 505.4,164.0 505.5,164.3 505.5,165.0 505.6,165.4 505.7,165.6 505.7,165.7 505.8,165.9 505.8,166.2 505.9,166.3 505.9,167.3 506.0,168.3 506.0,166.5 506.1,166.1 506.1,168.0 506.2,167.6 506.2,167.1 506.3,166.7 506.3,167.0 506.4,166.6 506.4,167.6 506.5,167.2 506.5,167.3 506.6,167.9 506.6,166.7 506.7,167.1 506.7,166.9 506.8,167.9 506.8,166.8 506.9,168.4 506.9,167.3 507.0,169.6 507.0,168.4 507.1,167.0 507.1,167.9 507.2,167.5 507.2,168.9 507.3,166.4 507.3,167.1 507.4,167.6 507.4,167.3 507.5,167.4 507.5,166.6 507.6,167.5 507.6,168.8 507.7,167.9 507.7,166.8 507.8,167.3 507.8,168.1 507.9,167.4 507.9,167.8 508.0,167.4 508.0,169.2 508.1,168.7 508.1,167.5 508.2,168.2 508.2,167.7 508.3,166.5 508.3,168.3 508.4,167.8 508.4,168.4 508.5,168.5 508.5,168.0 508.6,169.1 508.6,169.6 508.7,166.8 508.7,168.0 508.8,167.0 508.8,167.7 508.9,167.7 508.9,167.2 509.0,167.2 509.1,168.7 509.1,166.8 509.2,168.4 509.2,167.5 509.3,165.7 509.3,167.6 509.4,166.4 509.4,168.0 509.5,167.3 509.5,167.7 509.6,167.5 509.6,168.5 509.7,168.6 509.7,167.7 509.8,169.2 509.8,168.7 509.9,167.6 509.9,168.6 510.0,168.9 510.0,169.1 510.1,168.2 510.1,168.6 510.2,168.3 510.2,168.6 510.3,167.1 510.3,168.9 510.4,170.1 510.4,168.6 510.5,168.7 510.5,168.6 510.6,170.0 510.6,167.9 510.7,168.9 510.7,168.9 510.8,170.1 510.8,168.5 510.9,169.0 510.9,167.9 511.0,169.3 511.0,169.9 511.1,168.9 511.1,169.7 511.2,168.7 511.2,169.8 511.3,169.1 511.3,169.1 511.4,169.0 511.4,169.3 511.5,169.5 511.5,168.9 511.6,169.3 511.6,168.7 511.7,168.9 511.7,170.4 511.8,168.7 511.8,167.5 511.9,168.3 511.9,168.0 512.0,168.0 512.0,168.7 512.1,169.3 512.1,167.6 512.2,167.3 512.2,167.6 512.3,167.7 512.3,167.6 512.4,167.9 512.5,167.6 512.5,167.8 512.6,167.5 512.6,168.4 512.7,168.2 512.7,167.2 512.8,167.9 512.8,169.5 512.9,167.5 512.9,169.3 513.0,166.2 513.0,167.1 513.1,167.1 513.1,168.2 513.2,168.5 513.2,167.9 513.3,167.7 513.3,168.4 513.4,167.7 513.4,167.4 513.5,167.5 513.5,168.8 513.6,169.7 513.6,168.1 513.7,168.7 513.7,167.9 513.8,167.0 513.8,167.1 513.9,168.2 513.9,167.6 514.0,167.2 514.0,168.5 514.1,168.3 514.1,167.9 514.2,168.6 514.2,169.0 514.3,169.2 514.3,168.7 514.4,169.2 514.4,168.1 514.5,169.0 514.5,167.7 514.6,167.9 514.6,169.7 514.7,168.0 514.7,169.1 514.8,167.8 514.8,168.4 514.9,168.8 514.9,168.3 515.0,169.2 515.0,168.5 515.1,168.5 515.1,168.9 515.2,168.5 515.2,169.5 515.3,168.3 515.3,169.6 515.4,168.2 515.4,168.3 515.5,168.1 515.5,169.0 515.6,166.4 515.6,168.7 515.7,168.4 515.7,169.0 515.8,167.5 515.8,168.8 515.9,167.8 516.0,169.0 516.0,168.1 516.1,168.5 516.1,167.7 516.2,168.3 516.2,168.6 516.3,167.8 516.3,168.5 516.4,168.2 516.4,167.2 516.5,168.2 516.5,166.8 516.6,167.0 516.6,166.9 516.7,166.2 516.7,165.7 516.8,165.6 516.8,165.1 516.9,164.4 516.9,164.0 517.0,163.6 517.0,163.2 517.1,162.7 517.1,162.3 517.2,161.8 517.2,161.5 517.3,161.2 517.3,161.0 517.4,161.0 517.4,161.0 517.5,161.0 517.5,161.2 517.6,161.5 517.6,161.8 517.7,162.2 517.7,162.7 517.8,163.0 517.8,163.5 517.9,164.1 517.9,164.8 518.0,165.1 518.0,165.7 518.1,166.1 518.1,166.4 518.2,167.0 518.2,167.0 518.3,166.9 518.3,167.4 518.4,167.9 518.4,169.0 518.5,167.9 518.5,168.0 518.6,168.6 518.6,168.7 518.7,168.2 518.7,168.8 518.8,168.0 518.8,168.6 518.9,168.3 518.9,167.7 519.0,167.8 519.0,167.0 519.1,166.6 519.1,166.5 519.2,165.7 519.2,165.5 519.3,165.0 519.4,164.8 519.4,164.5 519.5,164.4 519.5,164.3 519.6,164.4 519.6,164.6 519.7,164.8 519.7,165.1 519.8,165.7 519.8,165.8 519.9,166.3 519.9,166.8 520.0,166.9 520.0,167.0 520.1,167.7 520.1,167.9 520.2,167.9 520.2,168.6 520.3,168.1 520.3,168.4 520.4,168.8 520.4,169.1 520.5,168.4 520.5,168.2 520.6,168.6 520.6,169.4 520.7,168.4 520.7,168.9 520.8,168.7 520.8,168.3 520.9,169.8 520.9,169.4 521.0,169.7 521.0,170.0 521.1,168.0 521.1,168.8 521.2,170.8 521.2,169.2 521.3,170.0 521.3,168.8 521.4,169.6 521.4,169.8 521.5,169.6 521.5,169.5 521.6,169.8 521.6,170.0 521.7,170.0 521.7,169.6 521.8,170.8 521.8,170.0 521.9,170.1 521.9,170.4 522.0,169.5 522.0,171.0 522.1,170.3 522.1,170.7 522.2,169.7 522.2,170.5 522.3,170.1 522.3,169.9 522.4,171.2 522.4,169.9 522.5,170.6 522.5,170.3 522.6,170.1 522.6,169.6 522.7,169.6 522.7,169.0 522.8,169.7 522.9,169.8 522.9,169.7 523.0,169.0 523.0,168.5 523.1,168.6 523.1,168.5 523.2,168.0 523.2,167.6 523.3,167.2 523.3,166.9 523.4,166.6 523.4,166.1 523.5,165.8 523.5,165.6 523.6,165.5 523.6,165.5 523.7,165.6 523.7,165.7 523.8,166.0 523.8,166.4 523.9,166.6 523.9,167.2 524.0,167.4 524.0,167.9 524.1,168.6 524.1,168.5 524.2,169.4 524.2,168.8 524.3,169.4 524.3,170.1 524.4,170.6 524.4,169.1 524.5,169.3 524.5,170.8 524.6,169.2 524.6,170.1 524.7,170.4 524.7,170.3 524.8,170.4 524.8,169.3 524.9,170.1 524.9,171.5 525.0,168.8 525.0,169.6 525.1,171.0 525.1,170.5 525.2,170.8 525.2,170.2 525.3,169.9 525.3,170.0 525.4,170.6 525.4,170.7 525.5,169.6 525.5,170.2 525.6,168.6 525.6,170.7 525.7,169.6 525.7,170.1 525.8,170.7 525.8,169.2 525.9,170.1 525.9,170.9 526.0,170.5 526.0,169.6 526.1,171.2 526.1,169.4 526.2,169.9 526.3,170.7 526.3,169.6 526.4,169.3 526.4,170.2 526.5,170.6 526.5,169.4 526.6,169.8 526.6,171.5 526.7,171.1 526.7,171.1 526.8,171.3 526.8,172.2 526.9,170.5 526.9,171.2 527.0,171.2 527.0,170.3 527.1,171.7 527.1,171.4 527.2,171.2 527.2,171.7 527.3,171.5 527.3,170.9 527.4,171.5 527.4,170.6 527.5,172.1 527.5,171.4 527.6,172.6 527.6,171.7 527.7,172.1 527.7,170.6 527.8,171.1 527.8,171.3 527.9,170.3 527.9,170.6 528.0,171.2 528.0,172.2 528.1,172.7 528.1,171.7 528.2,172.0 528.2,172.2 528.3,171.9 528.3,172.9 528.4,170.7 528.4,172.5 528.5,172.2 528.5,171.3 528.6,172.8 528.6,171.0 528.7,170.9 528.7,171.7 528.8,172.2 528.8,171.8 528.9,172.7 528.9,170.3 529.0,171.2 529.0,171.7 529.1,171.7 529.1,170.6 529.2,169.9 529.2,171.7 529.3,171.2 529.3,171.9 529.4,170.1 529.4,170.4 529.5,168.9 529.5,170.5 529.6,170.7 529.7,170.8 529.7,169.7 529.8,171.4 529.8,169.7 529.9,170.0 529.9,170.5 530.0,170.7 530.0,169.4 530.1,168.8 530.1,170.4 530.2,169.7 530.2,168.9 530.3,170.6 530.3,170.3 530.4,171.0 530.4,170.3 530.5,170.3 530.5,170.6 530.6,170.9 530.6,171.5 530.7,171.4 530.7,171.2 530.8,170.1 530.8,171.0 530.9,171.3 530.9,170.3 531.0,170.5 531.0,171.5 531.1,171.5 531.1,170.6 531.2,170.9 531.2,171.9 531.3,171.2 531.3,171.5 531.4,170.8 531.4,172.3 531.5,171.2 531.5,171.5 531.6,172.6 531.6,171.3 531.7,171.5 531.7,172.9 531.8,170.9 531.8,172.8 531.9,172.7 531.9,172.3 532.0,171.7 532.0,171.7 532.1,171.9 532.1,171.1 532.2,171.4 532.2,170.8 532.3,170.2 532.3,170.8 532.4,171.2 532.4,170.3 532.5,170.1 532.5,169.5 532.6,169.2 532.6,169.0 532.7,168.6 532.7,168.3 532.8,168.1 532.8,168.0 532.9,168.0 532.9,168.0 533.0,168.2 533.0,168.3 533.1,168.6 533.2,168.9 533.2,169.1 533.3,169.3 533.3,169.7 533.4,170.1 533.4,170.6 533.5,170.2 533.5,170.7 533.6,171.2 533.6,172.1 533.7,171.7 533.7,172.4 533.8,170.9 533.8,171.5 533.9,172.1 533.9,171.9 534.0,170.1 534.0,171.0 534.1,172.6 534.1,171.8 534.2,172.5 534.2,172.8 534.3,171.5 534.3,170.0 534.4,170.5 534.4,171.5 534.5,171.8 534.5,171.4 534.6,170.7 534.6,172.5 534.7,172.8 534.7,170.1 534.8,171.2 534.8,170.2 534.9,171.2 534.9,170.3 535.0,171.8 535.0,171.0 535.1,170.3 535.1,170.7 535.2,171.7 535.2,170.8 535.3,172.0 535.3,172.5 535.4,171.2 535.4,170.6 535.5,171.0 535.5,172.6 535.6,171.1 535.6,171.3 535.7,172.1 535.7,173.7 535.8,171.2 535.8,171.3 535.9,171.6 535.9,173.3 536.0,173.2 536.0,171.4 536.1,171.6 536.1,171.8 536.2,172.4 536.2,172.0 536.3,172.7 536.3,172.5 536.4,173.0 536.4,172.2 536.5,172.7 536.6,171.7 536.6,171.9 536.7,173.0 536.7,171.1 536.8,173.3 536.8,172.1 536.9,171.7 536.9,171.6 537.0,174.1 537.0,171.8 537.1,171.6 537.1,171.5 537.2,174.2 537.2,173.1 537.3,172.7 537.3,172.9 537.4,171.7 537.4,173.1 537.5,171.8 537.5,172.3 537.6,173.7 537.6,173.4 537.7,173.1 537.7,172.7 537.8,172.0 537.8,172.9 537.9,172.1 537.9,173.9 538.0,175.0 538.0,173.0 538.1,172.4 538.1,173.0 538.2,173.5 538.2,172.4 538.3,171.3 538.3,172.8 538.4,173.3 538.4,173.4 538.5,171.3 538.5,172.8 538.6,172.3 538.6,171.9 538.7,172.0 538.7,173.5 538.8,172.1 538.8,172.3 538.9,172.5 538.9,172.2 539.0,173.4 539.0,173.0 539.1,173.4 539.1,172.5 539.2,173.5 539.2,172.8 539.3,173.9 539.3,173.2 539.4,173.4 539.4,173.3 539.5,173.1 539.5,173.3 539.6,173.4 539.6,174.7 539.7,172.4 539.7,173.6 539.8,173.3 539.8,173.7 539.9,172.4 539.9,173.7 540.0,172.7 540.1,172.1 540.1,171.8 540.2,172.0 540.2,172.4 540.3,173.6 540.3,171.8 540.4,171.8 540.4,172.0 540.5,172.0 540.5,172.4 540.6,172.8 540.6,171.6 540.7,171.4 540.7,173.0 540.8,171.5 540.8,172.0 540.9,171.5 540.9,171.9 541.0,171.2 541.0,171.2 541.1,171.3 541.1,172.9 541.2,171.3 541.2,171.9 541.3,172.7 541.3,171.4 541.4,172.9 541.4,171.3 541.5,170.7 541.5,172.3 541.6,171.4 541.6,171.7 541.7,171.6 541.7,173.1 541.8,171.7 541.8,172.1 541.9,171.7 541.9,172.3 542.0,171.6 542.0,172.2 542.1,172.0 542.1,171.5 542.2,172.4 542.2,171.9 542.3,172.4 542.3,172.2 542.4,173.0 542.4,172.1 542.5,171.8 542.5,172.7 542.6,172.1 542.6,172.4 542.7,173.5 542.7,172.4 542.8,171.8 542.8,173.0 542.9,173.9 542.9,172.5 543.0,173.1 543.0,171.3 543.1,172.7 543.1,172.6 543.2,173.1 543.2,172.4 543.3,173.0 543.3,173.3 543.4,172.7" fill="none" stroke="#000" stroke-width="0.8" stroke-linejoin="round"/>
<g font-size="7.5" text-anchor="middle">
<text x="368.4" y="92.0">M</text>
<text x="380.2" y="105.8">Q</text>
<text x="394" y="38.8">Q</text>
<text x="404.5" y="125.9">M</text>
<text x="411.5" y="113.8">H</text>
<text x="417" y="107.1">M</text>
<text x="431.6" y="102.8">H</text>
<text x="421.6" y="146.1">Q</text>
<text x="427.4" y="143.2">Q</text>
<text x="436.2" y="142.8">Q</text>
<text x="442.1" y="160.4">M</text>
<text x="447.5" y="160.4">M</text>
<text x="455" y="155.2">Q</text>
<text x="464.3" y="151.7">H</text>
<text x="468.3" y="160.7">Q</text>
<text x="472.1" y="153.0">M</text>
<text x="478.5" y="151.4">Q</text>
<text x="481.5" y="138.8">M</text>
<text x="491.1" y="154.4">M</text>
<text x="499" y="160.4">Q</text>
<text x="504.8" y="160.4">M</text>
<text x="517.4" y="160.8">M</text>
<text x="523.6" y="166.4">M</text>
<text x="532.9" y="166.4">M</text>
</g>
</g>
<g font-family="'Liberation Serif', serif" font-size="13" text-anchor="middle" fill="#000">
<text transform="translate(138.2,251.8) scale(1,1.15)">(<tspan font-weight="bold">a</tspan>)</text>
<text transform="translate(436.5,251.8) scale(1,1.15)">(<tspan font-weight="bold">b</tspan>)</text>
</g>
</svg>
</body></html>
